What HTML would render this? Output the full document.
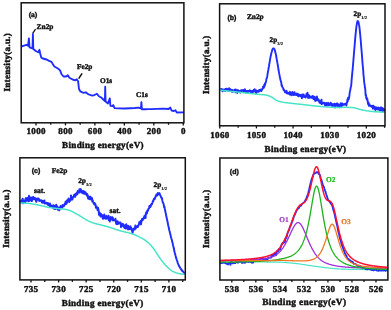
<!DOCTYPE html>
<html><head><meta charset="utf-8"><style>
html,body{margin:0;padding:0;background:#fff;width:391px;height:310px;overflow:hidden}
svg{display:block}
</style></head><body>
<svg width="391" height="310" viewBox="0 0 391 310" style="will-change:transform">
<rect width="391" height="310" fill="#fff"/>
<path d="M21.90,46.40 L26.30,44.80 L28.00,45.80 L28.90,38.40 L29.50,47.30 L32.50,48.30 L32.90,33.90 L33.30,49.00 L35.80,51.00 L38.30,52.30 L39.40,49.80 L40.30,54.00 L41.30,57.60 L42.80,58.50 L46.60,59.50 L49.10,60.90 L51.50,61.90 L52.90,64.30 L54.40,66.50 L58.30,68.70 L60.20,70.60 L61.40,74.00 L63.50,76.50 L66.10,76.50 L67.80,75.20 L69.40,77.80 L72.60,79.50 L75.40,80.30 L76.80,79.30 L78.10,81.20 L79.00,89.10 L80.40,91.40 L83.10,92.80 L85.80,92.30 L88.00,94.10 L91.70,95.50 L94.00,95.30 L96.90,93.70 L98.90,96.30 L101.20,97.50 L104.90,101.00 L105.20,86.70 L105.60,101.60 L108.00,103.40 L109.80,98.40 L110.40,105.80 L112.30,106.20 L113.30,105.10 L114.60,108.10 L118.00,108.30 L125.00,108.50 L135.00,108.00 L138.50,107.60 L140.90,108.50 L141.40,102.10 L141.90,109.20 L146.90,109.20 L151.10,109.10 L162.80,108.60 L168.60,109.00 L170.30,107.50 L171.50,110.50 L173.90,111.00 L175.40,110.20 L176.80,112.50 L183.00,112.30" fill="none" stroke="#1e2cff" stroke-width="1.85" stroke-linejoin="round" stroke-linecap="round" />
<line x1="36.00" y1="122.8" x2="36.00" y2="125.39999999999999" stroke="#111" stroke-width="1.3"/>
<line x1="50.73" y1="122.8" x2="50.73" y2="124.8" stroke="#111" stroke-width="1.3"/>
<line x1="65.45" y1="122.8" x2="65.45" y2="125.39999999999999" stroke="#111" stroke-width="1.3"/>
<line x1="80.17" y1="122.8" x2="80.17" y2="124.8" stroke="#111" stroke-width="1.3"/>
<line x1="94.90" y1="122.8" x2="94.90" y2="125.39999999999999" stroke="#111" stroke-width="1.3"/>
<line x1="109.63" y1="122.8" x2="109.63" y2="124.8" stroke="#111" stroke-width="1.3"/>
<line x1="124.35" y1="122.8" x2="124.35" y2="125.39999999999999" stroke="#111" stroke-width="1.3"/>
<line x1="139.08" y1="122.8" x2="139.08" y2="124.8" stroke="#111" stroke-width="1.3"/>
<line x1="153.80" y1="122.8" x2="153.80" y2="125.39999999999999" stroke="#111" stroke-width="1.3"/>
<line x1="168.53" y1="122.8" x2="168.53" y2="124.8" stroke="#111" stroke-width="1.3"/>
<line x1="183.25" y1="122.8" x2="183.25" y2="125.39999999999999" stroke="#111" stroke-width="1.3"/>
<rect x="21.2" y="2.8" width="162.70000000000002" height="120.0" fill="none" stroke="#111" stroke-width="1.5"/>
<text x="36.17" y="134.4" font-family='"Liberation Serif", serif' font-weight="bold" font-size="9.0" fill="#111" stroke="#111" stroke-width="0.45" text-anchor="middle" letter-spacing="0.35" text-rendering="geometricPrecision">1000</text>
<text x="65.62" y="134.4" font-family='"Liberation Serif", serif' font-weight="bold" font-size="9.0" fill="#111" stroke="#111" stroke-width="0.45" text-anchor="middle" letter-spacing="0.35" text-rendering="geometricPrecision">800</text>
<text x="95.07" y="134.4" font-family='"Liberation Serif", serif' font-weight="bold" font-size="9.0" fill="#111" stroke="#111" stroke-width="0.45" text-anchor="middle" letter-spacing="0.35" text-rendering="geometricPrecision">600</text>
<text x="124.52" y="134.4" font-family='"Liberation Serif", serif' font-weight="bold" font-size="9.0" fill="#111" stroke="#111" stroke-width="0.45" text-anchor="middle" letter-spacing="0.35" text-rendering="geometricPrecision">400</text>
<text x="153.97" y="134.4" font-family='"Liberation Serif", serif' font-weight="bold" font-size="9.0" fill="#111" stroke="#111" stroke-width="0.45" text-anchor="middle" letter-spacing="0.35" text-rendering="geometricPrecision">200</text>
<text x="183.42" y="134.4" font-family='"Liberation Serif", serif' font-weight="bold" font-size="9.0" fill="#111" stroke="#111" stroke-width="0.45" text-anchor="middle" letter-spacing="0.35" text-rendering="geometricPrecision">0</text>
<text transform="translate(10.1,62.2) rotate(-90)" x="0" y="0" font-family='"Liberation Serif", serif' font-weight="bold" font-size="9.1" fill="#111" stroke="#111" stroke-width="0.45" letter-spacing="0.27" text-rendering="geometricPrecision" text-anchor="middle">Intensity(a.u.)</text>
<text x="103" y="147.8" font-family='"Liberation Serif", serif' font-weight="bold" font-size="9.1" fill="#111" stroke="#111" stroke-width="0.45" text-anchor="middle" letter-spacing="0.32" text-rendering="geometricPrecision">Binding energy(eV)</text>
<text x="33" y="17.0" font-family='"Liberation Serif", serif' font-weight="bold" font-size="7.5" fill="#111" stroke="#111" stroke-width="0.4" text-anchor="middle" text-rendering="geometricPrecision">(a)</text>
<text x="36.6" y="28.7" font-family='"Liberation Serif", serif' font-weight="bold" font-size="7.4" fill="#111" stroke="#111" stroke-width="0.4" text-anchor="start" text-rendering="geometricPrecision">Zn2p</text>
<line x1="32.8" y1="33.2" x2="35.6" y2="29.2" stroke="#111" stroke-width="1.3"/>
<text x="77" y="69.0" font-family='"Liberation Serif", serif' font-weight="bold" font-size="7.3" fill="#111" stroke="#111" stroke-width="0.4" text-anchor="start" text-rendering="geometricPrecision">Fe2p</text>
<line x1="78.7" y1="78.6" x2="82.1" y2="73.3" stroke="#111" stroke-width="1.5"/>
<text x="100.0" y="83.1" font-family='"Liberation Serif", serif' font-weight="bold" font-size="7.3" fill="#111" stroke="#111" stroke-width="0.4" text-anchor="start" text-rendering="geometricPrecision">O1s</text>
<text x="136.1" y="97.1" font-family='"Liberation Serif", serif' font-weight="bold" font-size="7.3" fill="#111" stroke="#111" stroke-width="0.4" text-anchor="start" text-rendering="geometricPrecision">C1s</text>
<path d="M220.00,89.79 L220.35,90.11 L220.70,89.61 L221.05,89.08 L221.40,89.52 L221.75,89.06 L222.10,90.08 L222.45,91.32 L222.80,89.63 L223.15,89.55 L223.50,90.63 L223.85,90.54 L224.20,90.33 L224.55,89.38 L224.90,90.27 L225.25,90.99 L225.60,89.08 L225.95,89.95 L226.30,88.61 L226.65,89.22 L227.00,88.72 L227.35,90.28 L227.70,89.32 L228.05,90.81 L228.40,90.73 L228.75,90.42 L229.10,88.22 L229.45,90.13 L229.80,90.63 L230.15,90.80 L230.50,89.25 L230.85,90.28 L231.20,89.82 L231.55,90.00 L231.90,91.82 L232.25,90.04 L232.60,90.81 L232.95,91.71 L233.30,90.31 L233.65,90.78 L234.00,91.01 L234.35,90.98 L234.70,89.75 L235.05,91.03 L235.40,92.28 L235.75,89.49 L236.10,91.83 L236.45,91.13 L236.80,90.40 L237.15,92.98 L237.50,91.79 L237.85,89.90 L238.20,91.14 L238.55,91.64 L238.90,90.91 L239.25,91.77 L239.60,91.05 L239.95,91.77 L240.30,92.53 L240.65,90.48 L241.00,91.35 L241.35,90.71 L241.70,91.29 L242.05,90.02 L242.40,90.61 L242.75,90.99 L243.10,92.07 L243.45,92.31 L243.80,89.91 L244.15,90.43 L244.50,91.85 L244.85,89.28 L245.20,90.77 L245.55,91.13 L245.90,92.46 L246.25,91.91 L246.60,90.92 L246.95,90.88 L247.30,91.00 L247.65,92.74 L248.00,90.84 L248.35,90.96 L248.70,91.60 L249.05,91.14 L249.40,91.07 L249.75,90.18 L250.10,91.26 L250.45,90.83 L250.80,92.41 L251.15,91.91 L251.50,91.25 L251.85,91.93 L252.20,90.94 L252.55,92.30 L252.90,91.27 L253.25,91.85 L253.60,90.01 L253.95,91.61 L254.30,89.62 L254.65,89.28 L255.00,90.97 L255.35,90.39 L255.70,91.43 L256.05,93.46 L256.40,90.45 L256.75,90.64 L257.10,91.44 L257.45,91.71 L257.80,91.04 L258.15,90.99 L258.50,91.83 L258.85,91.60 L259.20,90.02 L259.55,90.85 L259.90,90.85 L260.25,89.67 L260.60,90.78 L260.95,89.54 L261.30,91.07 L261.65,90.11 L262.00,89.75 L262.35,88.82 L262.70,88.90 L263.05,86.79 L263.40,87.09 L263.75,87.81 L264.10,85.04 L264.45,86.75 L264.80,83.81 L265.15,84.77 L265.50,82.48 L265.85,82.40 L266.20,80.60 L266.55,78.13 L266.90,78.13 L267.25,76.46 L267.60,73.91 L267.95,71.94 L268.30,70.01 L268.65,67.78 L269.00,66.23 L269.35,63.74 L269.70,61.80 L270.05,59.59 L270.40,57.69 L270.75,55.70 L271.10,54.63 L271.45,52.75 L271.80,51.69 L272.15,50.34 L272.50,49.28 L272.85,48.75 L273.20,48.34 L273.55,48.41 L273.90,48.52 L274.25,49.01 L274.60,49.49 L274.95,50.63 L275.30,52.48 L275.65,53.34 L276.00,54.88 L276.35,57.01 L276.70,59.20 L277.05,60.50 L277.40,62.89 L277.75,64.91 L278.10,66.76 L278.45,69.52 L278.80,71.37 L279.15,73.41 L279.50,74.94 L279.85,77.38 L280.20,78.53 L280.55,80.36 L280.90,81.18 L281.25,82.41 L281.60,85.56 L281.95,85.24 L282.30,86.89 L282.65,87.51 L283.00,87.93 L283.35,88.55 L283.70,90.20 L284.05,89.85 L284.40,90.44 L284.75,90.99 L285.10,92.45 L285.45,92.25 L285.80,92.20 L286.15,91.46 L286.50,90.81 L286.85,93.31 L287.20,93.47 L287.55,92.45 L287.90,93.25 L288.25,93.58 L288.60,93.71 L288.95,93.88 L289.30,92.53 L289.65,94.62 L290.00,91.83 L290.35,94.07 L290.70,93.76 L291.05,94.23 L291.40,95.37 L291.75,95.06 L292.10,92.40 L292.45,91.93 L292.80,94.68 L293.15,92.85 L293.50,94.04 L293.85,95.07 L294.20,92.53 L294.55,92.15 L294.90,94.83 L295.25,94.72 L295.60,94.53 L295.95,94.96 L296.30,94.10 L296.65,93.49 L297.00,95.08 L297.35,94.30 L297.70,93.65 L298.05,96.13 L298.40,95.59 L298.75,96.19 L299.10,94.70 L299.45,95.12 L299.80,94.79 L300.15,94.95 L300.50,96.20 L300.85,95.13 L301.20,96.43 L301.55,96.44 L301.90,98.36 L302.25,94.53 L302.60,97.12 L302.95,96.04 L303.30,96.14 L303.65,94.53 L304.00,95.67 L304.35,97.05 L304.70,96.13 L305.05,96.34 L305.40,95.94 L305.75,97.60 L306.10,96.30 L306.45,93.85 L306.80,95.59 L307.15,94.16 L307.50,92.72 L307.85,95.85 L308.20,98.00 L308.55,96.56 L308.90,95.20 L309.25,95.49 L309.60,97.90 L309.95,96.83 L310.30,96.75 L310.65,96.68 L311.00,96.84 L311.35,97.79 L311.70,97.61 L312.05,97.35 L312.40,96.03 L312.75,98.01 L313.10,96.79 L313.45,99.09 L313.80,96.49 L314.15,98.05 L314.50,98.41 L314.85,97.03 L315.20,100.93 L315.55,100.81 L315.90,98.65 L316.25,100.34 L316.60,100.04 L316.95,96.50 L317.30,100.24 L317.65,100.03 L318.00,100.39 L318.35,99.11 L318.70,100.30 L319.05,100.59 L319.40,102.47 L319.75,101.57 L320.10,101.32 L320.45,103.40 L320.80,100.95 L321.15,101.31 L321.50,99.68 L321.85,104.06 L322.20,103.46 L322.55,103.55 L322.90,103.39 L323.25,102.84 L323.60,103.12 L323.95,102.67 L324.30,102.86 L324.65,103.32 L325.00,105.26 L325.35,104.18 L325.70,103.52 L326.05,102.96 L326.40,102.99 L326.75,105.88 L327.10,104.59 L327.45,104.13 L327.80,103.70 L328.15,102.82 L328.50,104.20 L328.85,105.45 L329.20,103.93 L329.55,104.20 L329.90,104.27 L330.25,104.73 L330.60,102.65 L330.95,104.39 L331.30,103.65 L331.65,105.85 L332.00,103.82 L332.35,105.53 L332.70,106.74 L333.05,104.47 L333.40,104.14 L333.75,105.15 L334.10,104.93 L334.45,103.70 L334.80,105.54 L335.15,107.49 L335.50,104.66 L335.85,104.74 L336.20,103.69 L336.55,105.39 L336.90,103.43 L337.25,103.60 L337.60,106.58 L337.95,103.83 L338.30,106.31 L338.65,106.85 L339.00,105.25 L339.35,105.60 L339.70,107.33 L340.05,104.62 L340.40,104.10 L340.75,103.13 L341.10,104.85 L341.45,106.61 L341.80,105.93 L342.15,103.52 L342.50,103.59 L342.85,103.99 L343.20,104.93 L343.55,104.25 L343.90,104.71 L344.25,104.72 L344.60,103.87 L344.95,104.06 L345.30,104.20 L345.65,103.62 L346.00,104.10 L346.35,105.48 L346.70,103.49 L347.05,102.33 L347.40,99.57 L347.75,101.45 L348.10,97.69 L348.45,97.40 L348.80,98.96 L349.15,97.39 L349.50,94.84 L349.85,91.41 L350.20,90.77 L350.55,88.20 L350.90,86.74 L351.25,85.01 L351.60,80.37 L351.95,76.43 L352.30,72.71 L352.65,69.32 L353.00,65.23 L353.35,60.78 L353.70,56.78 L354.05,52.09 L354.40,48.30 L354.75,44.01 L355.10,39.90 L355.45,35.61 L355.80,32.28 L356.15,28.92 L356.50,26.13 L356.85,23.94 L357.20,22.10 L357.55,21.09 L357.90,21.34 L358.25,21.46 L358.60,22.60 L358.95,24.47 L359.30,26.04 L359.65,29.07 L360.00,32.57 L360.35,36.27 L360.70,40.03 L361.05,44.57 L361.40,48.71 L361.75,52.77 L362.10,57.28 L362.45,62.09 L362.80,66.28 L363.15,69.68 L363.50,74.82 L363.85,78.27 L364.20,82.29 L364.55,84.30 L364.90,87.27 L365.25,89.12 L365.60,95.16 L365.95,94.53 L366.30,98.42 L366.65,97.49 L367.00,99.92 L367.35,98.87 L367.70,101.56 L368.05,104.19 L368.40,102.18 L368.75,105.74 L369.10,105.38 L369.45,104.13 L369.80,105.20 L370.15,105.59 L370.50,106.38 L370.85,106.01 L371.20,105.85 L371.55,106.68 L371.90,105.93 L372.25,105.74 L372.60,107.41 L372.95,108.68 L373.30,105.77 L373.65,107.78 L374.00,107.05 L374.35,106.73 L374.70,109.10 L375.05,107.46 L375.40,110.06 L375.75,107.30 L376.10,108.83 L376.45,108.15 L376.80,107.57 L377.15,109.33 L377.50,108.49 L377.85,109.52 L378.20,108.80 L378.55,107.59 L378.90,108.91 L379.25,109.20 L379.60,110.43 L379.95,108.20 L380.30,109.38 L380.65,107.38 L381.00,110.45 L381.35,108.38 L381.70,107.58 L382.05,109.87 L382.40,111.44 L382.75,108.26 L383.10,108.91 L383.45,109.46 L383.80,109.09 L384.15,111.09 L384.50,109.72" fill="none" stroke="#1e2cff" stroke-width="1.9" stroke-linejoin="round" stroke-linecap="round" />
<path d="M220.00,90.20 L220.35,90.24 L220.70,90.27 L221.05,90.31 L221.40,90.34 L221.75,90.38 L222.10,90.41 L222.45,90.45 L222.80,90.49 L223.15,90.52 L223.50,90.56 L223.85,90.59 L224.20,90.63 L224.55,90.67 L224.90,90.70 L225.25,90.74 L225.60,90.78 L225.95,90.81 L226.30,90.85 L226.65,90.88 L227.00,90.92 L227.35,90.96 L227.70,90.99 L228.05,91.03 L228.40,91.07 L228.75,91.10 L229.10,91.14 L229.45,91.18 L229.80,91.21 L230.15,91.25 L230.50,91.29 L230.85,91.32 L231.20,91.36 L231.55,91.40 L231.90,91.43 L232.25,91.47 L232.60,91.51 L232.95,91.55 L233.30,91.58 L233.65,91.62 L234.00,91.66 L234.35,91.69 L234.70,91.73 L235.05,91.77 L235.40,91.81 L235.75,91.84 L236.10,91.88 L236.45,91.92 L236.80,91.96 L237.15,91.99 L237.50,92.03 L237.85,92.07 L238.20,92.11 L238.55,92.14 L238.90,92.18 L239.25,92.22 L239.60,92.26 L239.95,92.29 L240.30,92.33 L240.65,92.37 L241.00,92.41 L241.35,92.45 L241.70,92.49 L242.05,92.52 L242.40,92.56 L242.75,92.60 L243.10,92.64 L243.45,92.68 L243.80,92.72 L244.15,92.76 L244.50,92.80 L244.85,92.84 L245.20,92.88 L245.55,92.92 L245.90,92.96 L246.25,93.00 L246.60,93.04 L246.95,93.08 L247.30,93.12 L247.65,93.16 L248.00,93.20 L248.35,93.24 L248.70,93.28 L249.05,93.32 L249.40,93.36 L249.75,93.40 L250.10,93.44 L250.45,93.48 L250.80,93.52 L251.15,93.56 L251.50,93.59 L251.85,93.63 L252.20,93.67 L252.55,93.71 L252.90,93.75 L253.25,93.79 L253.60,93.83 L253.95,93.87 L254.30,93.91 L254.65,93.94 L255.00,93.98 L255.35,94.02 L255.70,94.06 L256.05,94.10 L256.40,94.13 L256.75,94.17 L257.10,94.21 L257.45,94.24 L257.80,94.28 L258.15,94.32 L258.50,94.35 L258.85,94.38 L259.20,94.41 L259.55,94.44 L259.90,94.47 L260.25,94.50 L260.60,94.53 L260.95,94.55 L261.30,94.58 L261.65,94.61 L262.00,94.63 L262.35,94.66 L262.70,94.69 L263.05,94.72 L263.40,94.75 L263.75,94.79 L264.10,94.82 L264.45,94.86 L264.80,94.90 L265.15,94.95 L265.50,95.00 L265.85,95.05 L266.20,95.10 L266.55,95.16 L266.90,95.24 L267.25,95.32 L267.60,95.42 L267.95,95.53 L268.30,95.65 L268.65,95.77 L269.00,95.90 L269.35,96.04 L269.70,96.19 L270.05,96.34 L270.40,96.49 L270.75,96.65 L271.10,96.81 L271.45,96.97 L271.80,97.16 L272.15,97.37 L272.50,97.60 L272.85,97.85 L273.20,98.11 L273.55,98.38 L273.90,98.65 L274.25,98.92 L274.60,99.18 L274.95,99.44 L275.30,99.68 L275.65,99.90 L276.00,100.10 L276.35,100.28 L276.70,100.43 L277.05,100.58 L277.40,100.73 L277.75,100.87 L278.10,101.00 L278.45,101.13 L278.80,101.25 L279.15,101.37 L279.50,101.48 L279.85,101.59 L280.20,101.69 L280.55,101.78 L280.90,101.87 L281.25,101.95 L281.60,102.02 L281.95,102.09 L282.30,102.15 L282.65,102.21 L283.00,102.27 L283.35,102.33 L283.70,102.38 L284.05,102.43 L284.40,102.48 L284.75,102.53 L285.10,102.57 L285.45,102.62 L285.80,102.66 L286.15,102.70 L286.50,102.74 L286.85,102.78 L287.20,102.82 L287.55,102.86 L287.90,102.90 L288.25,102.95 L288.60,102.99 L288.95,103.03 L289.30,103.07 L289.65,103.11 L290.00,103.15 L290.35,103.19 L290.70,103.23 L291.05,103.27 L291.40,103.31 L291.75,103.35 L292.10,103.39 L292.45,103.42 L292.80,103.46 L293.15,103.50 L293.50,103.53 L293.85,103.57 L294.20,103.60 L294.55,103.64 L294.90,103.68 L295.25,103.71 L295.60,103.75 L295.95,103.78 L296.30,103.82 L296.65,103.86 L297.00,103.89 L297.35,103.93 L297.70,103.97 L298.05,104.01 L298.40,104.04 L298.75,104.08 L299.10,104.12 L299.45,104.16 L299.80,104.20 L300.15,104.24 L300.50,104.28 L300.85,104.32 L301.20,104.36 L301.55,104.40 L301.90,104.44 L302.25,104.48 L302.60,104.52 L302.95,104.56 L303.30,104.60 L303.65,104.64 L304.00,104.68 L304.35,104.72 L304.70,104.76 L305.05,104.80 L305.40,104.85 L305.75,104.89 L306.10,104.93 L306.45,104.97 L306.80,105.01 L307.15,105.05 L307.50,105.09 L307.85,105.14 L308.20,105.18 L308.55,105.22 L308.90,105.26 L309.25,105.30 L309.60,105.34 L309.95,105.38 L310.30,105.42 L310.65,105.46 L311.00,105.50 L311.35,105.54 L311.70,105.58 L312.05,105.62 L312.40,105.66 L312.75,105.70 L313.10,105.74 L313.45,105.78 L313.80,105.81 L314.15,105.85 L314.50,105.89 L314.85,105.92 L315.20,105.96 L315.55,106.00 L315.90,106.03 L316.25,106.07 L316.60,106.10 L316.95,106.14 L317.30,106.17 L317.65,106.21 L318.00,106.24 L318.35,106.27 L318.70,106.30 L319.05,106.34 L319.40,106.37 L319.75,106.40 L320.10,106.43 L320.45,106.46 L320.80,106.48 L321.15,106.51 L321.50,106.54 L321.85,106.57 L322.20,106.59 L322.55,106.62 L322.90,106.64 L323.25,106.67 L323.60,106.70 L323.95,106.72 L324.30,106.75 L324.65,106.78 L325.00,106.81 L325.35,106.83 L325.70,106.86 L326.05,106.89 L326.40,106.92 L326.75,106.94 L327.10,106.97 L327.45,107.00 L327.80,107.02 L328.15,107.05 L328.50,107.08 L328.85,107.10 L329.20,107.13 L329.55,107.15 L329.90,107.18 L330.25,107.20 L330.60,107.22 L330.95,107.25 L331.30,107.27 L331.65,107.29 L332.00,107.31 L332.35,107.33 L332.70,107.35 L333.05,107.37 L333.40,107.38 L333.75,107.40 L334.10,107.41 L334.45,107.43 L334.80,107.44 L335.15,107.45 L335.50,107.46 L335.85,107.47 L336.20,107.48 L336.55,107.49 L336.90,107.49 L337.25,107.50 L337.60,107.50 L337.95,107.50 L338.30,107.50 L338.65,107.50 L339.00,107.49 L339.35,107.48 L339.70,107.47 L340.05,107.46 L340.40,107.45 L340.75,107.44 L341.10,107.42 L341.45,107.41 L341.80,107.40 L342.15,107.38 L342.50,107.37 L342.85,107.35 L343.20,107.34 L343.55,107.33 L343.90,107.32 L344.25,107.31 L344.60,107.31 L344.95,107.30 L345.30,107.30 L345.65,107.30 L346.00,107.30 L346.35,107.31 L346.70,107.31 L347.05,107.32 L347.40,107.33 L347.75,107.34 L348.10,107.35 L348.45,107.36 L348.80,107.38 L349.15,107.39 L349.50,107.41 L349.85,107.42 L350.20,107.44 L350.55,107.46 L350.90,107.48 L351.25,107.50 L351.60,107.53 L351.95,107.55 L352.30,107.57 L352.65,107.60 L353.00,107.63 L353.35,107.67 L353.70,107.72 L354.05,107.78 L354.40,107.85 L354.75,107.92 L355.10,108.01 L355.45,108.10 L355.80,108.19 L356.15,108.29 L356.50,108.39 L356.85,108.49 L357.20,108.60 L357.55,108.70 L357.90,108.81 L358.25,108.91 L358.60,109.01 L358.95,109.11 L359.30,109.21 L359.65,109.29 L360.00,109.38 L360.35,109.46 L360.70,109.53 L361.05,109.61 L361.40,109.69 L361.75,109.77 L362.10,109.85 L362.45,109.93 L362.80,110.01 L363.15,110.08 L363.50,110.16 L363.85,110.23 L364.20,110.31 L364.55,110.38 L364.90,110.45 L365.25,110.52 L365.60,110.59 L365.95,110.65 L366.30,110.71 L366.65,110.77 L367.00,110.83 L367.35,110.88 L367.70,110.93 L368.05,110.98 L368.40,111.03 L368.75,111.07 L369.10,111.12 L369.45,111.16 L369.80,111.21 L370.15,111.25 L370.50,111.29 L370.85,111.33 L371.20,111.37 L371.55,111.41 L371.90,111.45 L372.25,111.48 L372.60,111.52 L372.95,111.55 L373.30,111.58 L373.65,111.61 L374.00,111.64 L374.35,111.67 L374.70,111.69 L375.05,111.72 L375.40,111.74 L375.75,111.77 L376.10,111.79 L376.45,111.81 L376.80,111.84 L377.15,111.86 L377.50,111.88 L377.85,111.90 L378.20,111.92 L378.55,111.94 L378.90,111.97 L379.25,111.99 L379.60,112.00 L379.95,112.02 L380.30,112.04 L380.65,112.06 L381.00,112.08 L381.35,112.09 L381.70,112.11 L382.05,112.12 L382.40,112.13 L382.75,112.15 L383.10,112.16 L383.45,112.17 L383.80,112.18 L384.15,112.18 L384.50,112.19" fill="none" stroke="#48e4c8" stroke-width="1.5" stroke-linejoin="round" stroke-linecap="round" />
<line x1="219.80" y1="125.8" x2="219.80" y2="128.4" stroke="#111" stroke-width="1.3"/>
<line x1="238.11" y1="125.8" x2="238.11" y2="127.8" stroke="#111" stroke-width="1.3"/>
<line x1="256.43" y1="125.8" x2="256.43" y2="128.4" stroke="#111" stroke-width="1.3"/>
<line x1="274.74" y1="125.8" x2="274.74" y2="127.8" stroke="#111" stroke-width="1.3"/>
<line x1="293.05" y1="125.8" x2="293.05" y2="128.4" stroke="#111" stroke-width="1.3"/>
<line x1="311.36" y1="125.8" x2="311.36" y2="127.8" stroke="#111" stroke-width="1.3"/>
<line x1="329.68" y1="125.8" x2="329.68" y2="128.4" stroke="#111" stroke-width="1.3"/>
<line x1="347.99" y1="125.8" x2="347.99" y2="127.8" stroke="#111" stroke-width="1.3"/>
<line x1="366.30" y1="125.8" x2="366.30" y2="128.4" stroke="#111" stroke-width="1.3"/>
<line x1="384.61" y1="125.8" x2="384.61" y2="127.8" stroke="#111" stroke-width="1.3"/>
<rect x="219.6" y="3.8" width="165.4" height="122.0" fill="none" stroke="#111" stroke-width="1.5"/>
<text x="219.97" y="138.0" font-family='"Liberation Serif", serif' font-weight="bold" font-size="9.0" fill="#111" stroke="#111" stroke-width="0.45" text-anchor="middle" letter-spacing="0.35" text-rendering="geometricPrecision">1060</text>
<text x="256.60" y="138.0" font-family='"Liberation Serif", serif' font-weight="bold" font-size="9.0" fill="#111" stroke="#111" stroke-width="0.45" text-anchor="middle" letter-spacing="0.35" text-rendering="geometricPrecision">1050</text>
<text x="293.22" y="138.0" font-family='"Liberation Serif", serif' font-weight="bold" font-size="9.0" fill="#111" stroke="#111" stroke-width="0.45" text-anchor="middle" letter-spacing="0.35" text-rendering="geometricPrecision">1040</text>
<text x="329.85" y="138.0" font-family='"Liberation Serif", serif' font-weight="bold" font-size="9.0" fill="#111" stroke="#111" stroke-width="0.45" text-anchor="middle" letter-spacing="0.35" text-rendering="geometricPrecision">1030</text>
<text x="366.47" y="138.0" font-family='"Liberation Serif", serif' font-weight="bold" font-size="9.0" fill="#111" stroke="#111" stroke-width="0.45" text-anchor="middle" letter-spacing="0.35" text-rendering="geometricPrecision">1020</text>
<text transform="translate(208.6,64.75) rotate(-90)" x="0" y="0" font-family='"Liberation Serif", serif' font-weight="bold" font-size="9.1" fill="#111" stroke="#111" stroke-width="0.45" letter-spacing="0.27" text-rendering="geometricPrecision" text-anchor="middle">Intensity(a.u.)</text>
<text x="305.5" y="151.7" font-family='"Liberation Serif", serif' font-weight="bold" font-size="9.1" fill="#111" stroke="#111" stroke-width="0.45" text-anchor="middle" letter-spacing="0.32" text-rendering="geometricPrecision">Binding energy(eV)</text>
<text x="231.9" y="20.1" font-family='"Liberation Sans", sans-serif' font-weight="bold" font-size="7.0" fill="#111" stroke="#111" stroke-width="0.4" text-anchor="middle" text-rendering="geometricPrecision">(b)</text>
<text x="247" y="19.0" font-family='"Liberation Serif", serif' font-weight="bold" font-size="7.3" fill="#111" stroke="#111" stroke-width="0.4" text-anchor="start" text-rendering="geometricPrecision">Zn2p</text>
<text x="269.6" y="42.2" font-family='"Liberation Serif", serif' font-weight="bold" font-size="7.2" fill="#111" stroke="#111" stroke-width="0.4" text-anchor="start" text-rendering="geometricPrecision">2p<tspan font-size="4.5" dy="2.7" stroke-width="0.15">3/2</tspan></text>
<text x="353.6" y="15.5" font-family='"Liberation Serif", serif' font-weight="bold" font-size="7.2" fill="#111" stroke="#111" stroke-width="0.4" text-anchor="start" text-rendering="geometricPrecision">2p<tspan font-size="4.5" dy="3.0" stroke-width="0.15">1/2</tspan></text>
<path d="M20.60,200.96 L20.95,202.51 L21.30,200.62 L21.65,202.02 L22.00,200.06 L22.35,199.61 L22.70,198.67 L23.05,203.35 L23.40,200.39 L23.75,201.01 L24.10,200.54 L24.45,200.68 L24.80,200.44 L25.15,202.77 L25.50,198.85 L25.85,198.08 L26.20,198.69 L26.55,198.18 L26.90,200.79 L27.25,200.80 L27.60,198.40 L27.95,197.76 L28.30,199.04 L28.65,201.25 L29.00,195.72 L29.35,200.03 L29.70,197.92 L30.05,200.65 L30.40,197.90 L30.75,198.93 L31.10,197.34 L31.45,198.03 L31.80,201.10 L32.15,200.37 L32.50,198.78 L32.85,198.17 L33.20,196.84 L33.55,198.79 L33.90,199.26 L34.25,199.19 L34.60,199.18 L34.95,197.84 L35.30,199.21 L35.65,199.26 L36.00,201.01 L36.35,201.80 L36.70,199.25 L37.05,198.49 L37.40,199.48 L37.75,198.85 L38.10,198.76 L38.45,199.74 L38.80,198.58 L39.15,200.89 L39.50,200.17 L39.85,200.86 L40.20,200.55 L40.55,200.11 L40.90,200.10 L41.25,201.29 L41.60,201.14 L41.95,202.39 L42.30,202.29 L42.65,200.70 L43.00,202.72 L43.35,201.03 L43.70,202.11 L44.05,202.67 L44.40,200.48 L44.75,203.42 L45.10,203.62 L45.45,203.35 L45.80,203.13 L46.15,203.33 L46.50,202.69 L46.85,203.76 L47.20,203.54 L47.55,204.54 L47.90,203.02 L48.25,205.06 L48.60,205.11 L48.95,204.90 L49.30,204.68 L49.65,206.14 L50.00,203.42 L50.35,206.34 L50.70,206.22 L51.05,206.43 L51.40,206.72 L51.75,205.54 L52.10,206.21 L52.45,207.55 L52.80,207.44 L53.15,207.30 L53.50,205.21 L53.85,208.01 L54.20,208.95 L54.55,208.85 L54.90,207.93 L55.25,205.68 L55.60,209.01 L55.95,207.67 L56.30,204.65 L56.65,208.50 L57.00,206.13 L57.35,206.43 L57.70,207.33 L58.05,209.84 L58.40,207.72 L58.75,208.54 L59.10,210.40 L59.45,210.10 L59.80,207.76 L60.15,207.41 L60.50,205.88 L60.85,206.39 L61.20,207.60 L61.55,207.30 L61.90,206.64 L62.25,207.50 L62.60,204.91 L62.95,205.55 L63.30,206.28 L63.65,205.80 L64.00,206.16 L64.35,205.02 L64.70,203.86 L65.05,204.49 L65.40,202.47 L65.75,201.40 L66.10,204.04 L66.45,202.96 L66.80,203.18 L67.15,200.31 L67.50,201.78 L67.85,201.21 L68.20,200.58 L68.55,198.49 L68.90,200.69 L69.25,201.99 L69.60,201.00 L69.95,199.39 L70.30,199.78 L70.65,200.39 L71.00,195.41 L71.35,198.41 L71.70,198.85 L72.05,198.60 L72.40,199.49 L72.75,198.33 L73.10,196.85 L73.45,196.44 L73.80,196.69 L74.15,194.62 L74.50,194.95 L74.85,195.87 L75.20,196.91 L75.55,193.83 L75.90,193.64 L76.25,193.63 L76.60,194.79 L76.95,192.69 L77.30,194.33 L77.65,190.88 L78.00,191.63 L78.35,191.38 L78.70,192.46 L79.05,192.62 L79.40,189.17 L79.75,189.85 L80.10,191.44 L80.45,190.15 L80.80,189.08 L81.15,192.49 L81.50,191.89 L81.85,192.02 L82.20,190.91 L82.55,193.04 L82.90,191.57 L83.25,193.50 L83.60,191.09 L83.95,191.35 L84.30,192.92 L84.65,191.94 L85.00,193.96 L85.35,193.66 L85.70,192.38 L86.05,193.95 L86.40,193.68 L86.75,195.63 L87.10,193.93 L87.45,194.51 L87.80,196.98 L88.15,198.66 L88.50,198.69 L88.85,196.53 L89.20,197.09 L89.55,199.18 L89.90,197.42 L90.25,196.72 L90.60,198.57 L90.95,199.45 L91.30,198.24 L91.65,197.65 L92.00,198.40 L92.35,201.62 L92.70,200.27 L93.05,201.57 L93.40,202.54 L93.75,203.58 L94.10,202.86 L94.45,204.49 L94.80,203.25 L95.15,204.52 L95.50,204.26 L95.85,207.67 L96.20,206.78 L96.55,206.48 L96.90,207.60 L97.25,208.39 L97.60,210.19 L97.95,207.80 L98.30,209.11 L98.65,210.53 L99.00,214.87 L99.35,213.39 L99.70,212.57 L100.05,214.19 L100.40,216.44 L100.75,213.92 L101.10,214.13 L101.45,216.53 L101.80,215.93 L102.15,216.48 L102.50,215.25 L102.85,218.70 L103.20,218.69 L103.55,217.46 L103.90,217.85 L104.25,214.53 L104.60,218.19 L104.95,217.28 L105.30,218.25 L105.65,218.71 L106.00,217.50 L106.35,215.86 L106.70,218.65 L107.05,217.30 L107.40,217.93 L107.75,217.66 L108.10,218.09 L108.45,215.62 L108.80,220.29 L109.15,219.13 L109.50,220.34 L109.85,221.57 L110.20,219.13 L110.55,216.87 L110.90,218.15 L111.25,217.85 L111.60,218.87 L111.95,219.73 L112.30,217.13 L112.65,220.29 L113.00,217.99 L113.35,220.46 L113.70,220.05 L114.05,219.90 L114.40,220.35 L114.75,219.87 L115.10,219.92 L115.45,218.68 L115.80,220.99 L116.15,223.61 L116.50,223.98 L116.85,223.33 L117.20,222.74 L117.55,221.17 L117.90,224.15 L118.25,222.43 L118.60,222.64 L118.95,222.58 L119.30,223.30 L119.65,222.84 L120.00,223.50 L120.35,222.41 L120.70,223.52 L121.05,227.16 L121.40,224.29 L121.75,224.25 L122.10,225.43 L122.45,225.84 L122.80,223.65 L123.15,225.00 L123.50,226.64 L123.85,225.97 L124.20,225.95 L124.55,227.99 L124.90,225.26 L125.25,226.43 L125.60,225.82 L125.95,228.62 L126.30,224.32 L126.65,226.16 L127.00,226.51 L127.35,228.24 L127.70,228.33 L128.05,229.53 L128.40,225.85 L128.75,229.05 L129.10,227.88 L129.45,227.59 L129.80,229.35 L130.15,227.66 L130.50,226.37 L130.85,228.83 L131.20,227.67 L131.55,229.13 L131.90,230.82 L132.25,231.06 L132.60,232.96 L132.95,230.74 L133.30,228.91 L133.65,229.61 L134.00,228.93 L134.35,227.99 L134.70,229.57 L135.05,227.65 L135.40,225.50 L135.75,228.57 L136.10,227.12 L136.45,227.34 L136.80,226.62 L137.15,226.92 L137.50,225.78 L137.85,226.96 L138.20,225.54 L138.55,225.16 L138.90,224.85 L139.25,222.11 L139.60,223.47 L139.95,223.03 L140.30,223.31 L140.65,220.93 L141.00,224.47 L141.35,222.10 L141.70,219.98 L142.05,218.88 L142.40,220.23 L142.75,219.92 L143.10,218.51 L143.45,218.93 L143.80,217.31 L144.15,218.19 L144.50,215.85 L144.85,216.06 L145.20,216.71 L145.55,218.13 L145.90,212.86 L146.25,212.98 L146.60,211.93 L146.95,213.48 L147.30,210.43 L147.65,210.76 L148.00,210.81 L148.35,209.04 L148.70,208.52 L149.05,208.59 L149.40,205.90 L149.75,206.16 L150.10,207.15 L150.45,206.86 L150.80,205.94 L151.15,204.19 L151.50,204.30 L151.85,204.37 L152.20,203.45 L152.55,202.29 L152.90,201.03 L153.25,201.31 L153.60,199.85 L153.95,198.83 L154.30,198.44 L154.65,199.23 L155.00,197.73 L155.35,197.63 L155.70,195.87 L156.05,196.12 L156.40,194.51 L156.75,194.26 L157.10,195.52 L157.45,194.07 L157.80,193.03 L158.15,193.25 L158.50,193.60 L158.85,194.38 L159.20,193.58 L159.55,193.14 L159.90,194.52 L160.25,195.17 L160.60,195.71 L160.95,197.09 L161.30,197.19 L161.65,198.37 L162.00,198.10 L162.35,200.44 L162.70,202.36 L163.05,202.67 L163.40,203.53 L163.75,204.67 L164.10,207.04 L164.45,206.71 L164.80,208.78 L165.15,210.56 L165.50,212.29 L165.85,213.77 L166.20,215.62 L166.55,217.20 L166.90,218.92 L167.25,220.52 L167.60,222.00 L167.95,223.91 L168.30,225.77 L168.65,227.05 L169.00,228.78 L169.35,230.47 L169.70,231.56 L170.05,233.19 L170.40,234.30 L170.75,236.05 L171.10,237.59 L171.45,238.86 L171.80,239.77 L172.15,241.34 L172.50,242.65 L172.85,244.16 L173.20,246.00 L173.55,247.02 L173.90,249.07 L174.25,250.42 L174.60,252.23 L174.95,253.44 L175.30,254.64 L175.65,256.09 L176.00,257.41 L176.35,258.48 L176.70,259.74 L177.05,260.67 L177.40,261.44 L177.75,263.04 L178.10,263.94 L178.45,264.68 L178.80,265.42 L179.15,266.30 L179.50,266.66 L179.85,267.23 L180.20,267.90 L180.55,268.71 L180.90,268.71 L181.25,269.70 L181.60,269.80 L181.95,270.15 L182.30,271.03 L182.65,271.17 L183.00,271.33 L183.35,271.89 L183.70,272.50 L184.05,272.89 L184.40,272.89 L184.75,273.34" fill="none" stroke="#1e2cff" stroke-width="1.95" stroke-linejoin="round" stroke-linecap="round" />
<path d="M20.30,202.90 L20.80,202.91 L21.30,202.92 L21.80,202.94 L22.30,202.96 L22.80,202.98 L23.30,203.01 L23.80,203.04 L24.30,203.07 L24.80,203.11 L25.30,203.15 L25.80,203.19 L26.30,203.23 L26.80,203.27 L27.30,203.32 L27.80,203.36 L28.30,203.41 L28.80,203.46 L29.30,203.51 L29.80,203.56 L30.30,203.61 L30.80,203.67 L31.30,203.73 L31.80,203.80 L32.30,203.87 L32.80,203.95 L33.30,204.04 L33.80,204.13 L34.30,204.22 L34.80,204.32 L35.30,204.42 L35.80,204.52 L36.30,204.62 L36.80,204.73 L37.30,204.83 L37.80,204.94 L38.30,205.04 L38.80,205.15 L39.30,205.25 L39.80,205.36 L40.30,205.46 L40.80,205.56 L41.30,205.66 L41.80,205.77 L42.30,205.88 L42.80,206.00 L43.30,206.11 L43.80,206.23 L44.30,206.35 L44.80,206.47 L45.30,206.59 L45.80,206.71 L46.30,206.82 L46.80,206.94 L47.30,207.05 L47.80,207.16 L48.30,207.26 L48.80,207.37 L49.30,207.46 L49.80,207.55 L50.30,207.64 L50.80,207.72 L51.30,207.79 L51.80,207.86 L52.30,207.93 L52.80,208.00 L53.30,208.06 L53.80,208.12 L54.30,208.18 L54.80,208.24 L55.30,208.30 L55.80,208.35 L56.30,208.41 L56.80,208.46 L57.30,208.52 L57.80,208.57 L58.30,208.62 L58.80,208.67 L59.30,208.73 L59.80,208.78 L60.30,208.83 L60.80,208.88 L61.30,208.92 L61.80,208.96 L62.30,209.00 L62.80,209.05 L63.30,209.09 L63.80,209.14 L64.30,209.20 L64.80,209.26 L65.30,209.33 L65.80,209.42 L66.30,209.52 L66.80,209.64 L67.30,209.77 L67.80,209.91 L68.30,210.06 L68.80,210.22 L69.30,210.39 L69.80,210.56 L70.30,210.74 L70.80,210.93 L71.30,211.15 L71.80,211.39 L72.30,211.65 L72.80,211.92 L73.30,212.19 L73.80,212.47 L74.30,212.75 L74.80,213.03 L75.30,213.30 L75.80,213.57 L76.30,213.84 L76.80,214.11 L77.30,214.38 L77.80,214.66 L78.30,214.94 L78.80,215.22 L79.30,215.50 L79.80,215.79 L80.30,216.08 L80.80,216.38 L81.30,216.69 L81.80,217.01 L82.30,217.33 L82.80,217.65 L83.30,217.98 L83.80,218.30 L84.30,218.62 L84.80,218.93 L85.30,219.23 L85.80,219.51 L86.30,219.79 L86.80,220.07 L87.30,220.35 L87.80,220.62 L88.30,220.88 L88.80,221.13 L89.30,221.38 L89.80,221.61 L90.30,221.83 L90.80,222.04 L91.30,222.24 L91.80,222.42 L92.30,222.61 L92.80,222.78 L93.30,222.95 L93.80,223.11 L94.30,223.26 L94.80,223.41 L95.30,223.56 L95.80,223.70 L96.30,223.83 L96.80,223.96 L97.30,224.08 L97.80,224.19 L98.30,224.30 L98.80,224.41 L99.30,224.53 L99.80,224.65 L100.30,224.78 L100.80,224.90 L101.30,225.03 L101.80,225.16 L102.30,225.29 L102.80,225.42 L103.30,225.55 L103.80,225.69 L104.30,225.82 L104.80,225.96 L105.30,226.09 L105.80,226.23 L106.30,226.37 L106.80,226.51 L107.30,226.65 L107.80,226.80 L108.30,226.94 L108.80,227.09 L109.30,227.23 L109.80,227.38 L110.30,227.53 L110.80,227.68 L111.30,227.84 L111.80,228.00 L112.30,228.17 L112.80,228.34 L113.30,228.51 L113.80,228.68 L114.30,228.86 L114.80,229.03 L115.30,229.21 L115.80,229.38 L116.30,229.55 L116.80,229.73 L117.30,229.90 L117.80,230.06 L118.30,230.23 L118.80,230.39 L119.30,230.55 L119.80,230.70 L120.30,230.84 L120.80,230.98 L121.30,231.12 L121.80,231.25 L122.30,231.37 L122.80,231.49 L123.30,231.60 L123.80,231.72 L124.30,231.83 L124.80,231.94 L125.30,232.05 L125.80,232.16 L126.30,232.27 L126.80,232.38 L127.30,232.50 L127.80,232.62 L128.30,232.74 L128.80,232.87 L129.30,233.00 L129.80,233.14 L130.30,233.28 L130.80,233.43 L131.30,233.59 L131.80,233.75 L132.30,233.92 L132.80,234.10 L133.30,234.28 L133.80,234.46 L134.30,234.65 L134.80,234.85 L135.30,235.05 L135.80,235.26 L136.30,235.47 L136.80,235.69 L137.30,235.91 L137.80,236.14 L138.30,236.37 L138.80,236.61 L139.30,236.85 L139.80,237.10 L140.30,237.35 L140.80,237.61 L141.30,237.88 L141.80,238.16 L142.30,238.45 L142.80,238.75 L143.30,239.06 L143.80,239.38 L144.30,239.71 L144.80,240.05 L145.30,240.41 L145.80,240.77 L146.30,241.15 L146.80,241.54 L147.30,241.94 L147.80,242.37 L148.30,242.82 L148.80,243.28 L149.30,243.76 L149.80,244.26 L150.30,244.78 L150.80,245.31 L151.30,245.85 L151.80,246.42 L152.30,246.99 L152.80,247.58 L153.30,248.20 L153.80,248.86 L154.30,249.56 L154.80,250.30 L155.30,251.07 L155.80,251.85 L156.30,252.65 L156.80,253.45 L157.30,254.25 L157.80,255.04 L158.30,255.81 L158.80,256.55 L159.30,257.26 L159.80,257.95 L160.30,258.63 L160.80,259.32 L161.30,260.00 L161.80,260.67 L162.30,261.33 L162.80,261.98 L163.30,262.62 L163.80,263.24 L164.30,263.84 L164.80,264.42 L165.30,264.97 L165.80,265.50 L166.30,266.01 L166.80,266.52 L167.30,267.03 L167.80,267.53 L168.30,268.01 L168.80,268.48 L169.30,268.93 L169.80,269.36 L170.30,269.77 L170.80,270.15 L171.30,270.50 L171.80,270.82 L172.30,271.10 L172.80,271.36 L173.30,271.60 L173.80,271.84 L174.30,272.06 L174.80,272.28 L175.30,272.48 L175.80,272.67 L176.30,272.84 L176.80,273.01 L177.30,273.16 L177.80,273.29 L178.30,273.41 L178.80,273.52 L179.30,273.62 L179.80,273.72 L180.30,273.82 L180.80,273.91 L181.30,273.99 L181.80,274.08 L182.30,274.15 L182.80,274.22 L183.30,274.28 L183.80,274.32 L184.30,274.36 L184.80,274.39" fill="none" stroke="#48e4c8" stroke-width="1.5" stroke-linejoin="round" stroke-linecap="round" />
<line x1="31.00" y1="279.9" x2="31.00" y2="282.5" stroke="#111" stroke-width="1.3"/>
<line x1="44.79" y1="279.9" x2="44.79" y2="281.9" stroke="#111" stroke-width="1.3"/>
<line x1="58.58" y1="279.9" x2="58.58" y2="282.5" stroke="#111" stroke-width="1.3"/>
<line x1="72.37" y1="279.9" x2="72.37" y2="281.9" stroke="#111" stroke-width="1.3"/>
<line x1="86.16" y1="279.9" x2="86.16" y2="282.5" stroke="#111" stroke-width="1.3"/>
<line x1="99.95" y1="279.9" x2="99.95" y2="281.9" stroke="#111" stroke-width="1.3"/>
<line x1="113.74" y1="279.9" x2="113.74" y2="282.5" stroke="#111" stroke-width="1.3"/>
<line x1="127.53" y1="279.9" x2="127.53" y2="281.9" stroke="#111" stroke-width="1.3"/>
<line x1="141.32" y1="279.9" x2="141.32" y2="282.5" stroke="#111" stroke-width="1.3"/>
<line x1="155.11" y1="279.9" x2="155.11" y2="281.9" stroke="#111" stroke-width="1.3"/>
<line x1="168.90" y1="279.9" x2="168.90" y2="282.5" stroke="#111" stroke-width="1.3"/>
<line x1="182.69" y1="279.9" x2="182.69" y2="281.9" stroke="#111" stroke-width="1.3"/>
<rect x="19.9" y="157.8" width="165.4" height="122.09999999999997" fill="none" stroke="#111" stroke-width="1.5"/>
<text x="31.17" y="292.3" font-family='"Liberation Serif", serif' font-weight="bold" font-size="9.0" fill="#111" stroke="#111" stroke-width="0.45" text-anchor="middle" letter-spacing="0.35" text-rendering="geometricPrecision">735</text>
<text x="58.75" y="292.3" font-family='"Liberation Serif", serif' font-weight="bold" font-size="9.0" fill="#111" stroke="#111" stroke-width="0.45" text-anchor="middle" letter-spacing="0.35" text-rendering="geometricPrecision">730</text>
<text x="86.33" y="292.3" font-family='"Liberation Serif", serif' font-weight="bold" font-size="9.0" fill="#111" stroke="#111" stroke-width="0.45" text-anchor="middle" letter-spacing="0.35" text-rendering="geometricPrecision">725</text>
<text x="113.91" y="292.3" font-family='"Liberation Serif", serif' font-weight="bold" font-size="9.0" fill="#111" stroke="#111" stroke-width="0.45" text-anchor="middle" letter-spacing="0.35" text-rendering="geometricPrecision">720</text>
<text x="141.49" y="292.3" font-family='"Liberation Serif", serif' font-weight="bold" font-size="9.0" fill="#111" stroke="#111" stroke-width="0.45" text-anchor="middle" letter-spacing="0.35" text-rendering="geometricPrecision">715</text>
<text x="169.07" y="292.3" font-family='"Liberation Serif", serif' font-weight="bold" font-size="9.0" fill="#111" stroke="#111" stroke-width="0.45" text-anchor="middle" letter-spacing="0.35" text-rendering="geometricPrecision">710</text>
<text transform="translate(9.3,218.5) rotate(-90)" x="0" y="0" font-family='"Liberation Serif", serif' font-weight="bold" font-size="9.1" fill="#111" stroke="#111" stroke-width="0.45" letter-spacing="0.27" text-rendering="geometricPrecision" text-anchor="middle">Intensity(a.u.)</text>
<text x="102.65" y="305.7" font-family='"Liberation Serif", serif' font-weight="bold" font-size="9.1" fill="#111" stroke="#111" stroke-width="0.45" text-anchor="middle" letter-spacing="0.32" text-rendering="geometricPrecision">Binding energy(eV)</text>
<text x="36.0" y="173.3" font-family='"Liberation Sans", sans-serif' font-weight="bold" font-size="7.0" fill="#111" stroke="#111" stroke-width="0.4" text-anchor="middle" text-rendering="geometricPrecision">(c)</text>
<text x="51.8" y="173.1" font-family='"Liberation Serif", serif' font-weight="bold" font-size="7.4" fill="#111" stroke="#111" stroke-width="0.4" text-anchor="start" text-rendering="geometricPrecision">Fe2p</text>
<text x="34.0" y="193.0" font-family='"Liberation Serif", serif' font-weight="bold" font-size="7.5" fill="#111" stroke="#111" stroke-width="0.4" text-anchor="start" text-rendering="geometricPrecision">sat.</text>
<text x="109.5" y="212.9" font-family='"Liberation Serif", serif' font-weight="bold" font-size="7.5" fill="#111" stroke="#111" stroke-width="0.4" text-anchor="start" text-rendering="geometricPrecision">sat.</text>
<text x="78.2" y="182.9" font-family='"Liberation Serif", serif' font-weight="bold" font-size="7.3" fill="#111" stroke="#111" stroke-width="0.4" text-anchor="start" text-rendering="geometricPrecision">2p<tspan font-size="4.5" dy="3.1" stroke-width="0.15">3/2</tspan></text>
<text x="153.5" y="186.8" font-family='"Liberation Serif", serif' font-weight="bold" font-size="7.3" fill="#111" stroke="#111" stroke-width="0.4" text-anchor="start" text-rendering="geometricPrecision">2p<tspan font-size="4.5" dy="3.2" stroke-width="0.15">1/2</tspan></text>
<path d="M220.50,261.80 L221.00,261.80 L221.50,261.80 L222.00,261.80 L222.50,261.80 L223.00,261.80 L223.50,261.80 L224.00,261.80 L224.50,261.80 L225.00,261.80 L225.50,261.80 L226.00,261.80 L226.50,261.80 L227.00,261.80 L227.50,261.81 L228.00,261.81 L228.50,261.81 L229.00,261.81 L229.50,261.81 L230.00,261.81 L230.50,261.81 L231.00,261.81 L231.50,261.81 L232.00,261.81 L232.50,261.81 L233.00,261.82 L233.50,261.82 L234.00,261.82 L234.50,261.82 L235.00,261.82 L235.50,261.82 L236.00,261.82 L236.50,261.83 L237.00,261.83 L237.50,261.83 L238.00,261.83 L238.50,261.83 L239.00,261.83 L239.50,261.84 L240.00,261.84 L240.50,261.84 L241.00,261.84 L241.50,261.84 L242.00,261.85 L242.50,261.85 L243.00,261.85 L243.50,261.85 L244.00,261.86 L244.50,261.86 L245.00,261.86 L245.50,261.86 L246.00,261.87 L246.50,261.87 L247.00,261.87 L247.50,261.87 L248.00,261.88 L248.50,261.88 L249.00,261.88 L249.50,261.89 L250.00,261.89 L250.50,261.89 L251.00,261.90 L251.50,261.90 L252.00,261.90 L252.50,261.91 L253.00,261.91 L253.50,261.91 L254.00,261.92 L254.50,261.92 L255.00,261.92 L255.50,261.93 L256.00,261.93 L256.50,261.94 L257.00,261.94 L257.50,261.94 L258.00,261.95 L258.50,261.95 L259.00,261.96 L259.50,261.96 L260.00,261.96 L260.50,261.97 L261.00,261.97 L261.50,261.98 L262.00,261.98 L262.50,261.99 L263.00,261.99 L263.50,262.00 L264.00,262.00 L264.50,262.01 L265.00,262.01 L265.50,262.02 L266.00,262.02 L266.50,262.03 L267.00,262.03 L267.50,262.04 L268.00,262.04 L268.50,262.05 L269.00,262.06 L269.50,262.06 L270.00,262.07 L270.50,262.07 L271.00,262.08 L271.50,262.09 L272.00,262.09 L272.50,262.10 L273.00,262.10 L273.50,262.11 L274.00,262.12 L274.50,262.12 L275.00,262.13 L275.50,262.14 L276.00,262.14 L276.50,262.15 L277.00,262.16 L277.50,262.16 L278.00,262.17 L278.50,262.18 L279.00,262.19 L279.50,262.19 L280.00,262.20 L280.50,262.21 L281.00,262.22 L281.50,262.24 L282.00,262.26 L282.50,262.28 L283.00,262.30 L283.50,262.33 L284.00,262.36 L284.50,262.40 L285.00,262.43 L285.50,262.47 L286.00,262.51 L286.50,262.55 L287.00,262.59 L287.50,262.64 L288.00,262.68 L288.50,262.73 L289.00,262.78 L289.50,262.83 L290.00,262.88 L290.50,262.93 L291.00,262.98 L291.50,263.03 L292.00,263.09 L292.50,263.14 L293.00,263.19 L293.50,263.24 L294.00,263.30 L294.50,263.35 L295.00,263.40 L295.50,263.45 L296.00,263.51 L296.50,263.57 L297.00,263.63 L297.50,263.69 L298.00,263.75 L298.50,263.82 L299.00,263.89 L299.50,263.96 L300.00,264.03 L300.50,264.10 L301.00,264.17 L301.50,264.25 L302.00,264.32 L302.50,264.40 L303.00,264.48 L303.50,264.56 L304.00,264.63 L304.50,264.71 L305.00,264.79 L305.50,264.87 L306.00,264.95 L306.50,265.03 L307.00,265.11 L307.50,265.18 L308.00,265.26 L308.50,265.34 L309.00,265.41 L309.50,265.49 L310.00,265.56 L310.50,265.63 L311.00,265.70 L311.50,265.77 L312.00,265.84 L312.50,265.91 L313.00,265.98 L313.50,266.05 L314.00,266.12 L314.50,266.19 L315.00,266.26 L315.50,266.33 L316.00,266.40 L316.50,266.48 L317.00,266.55 L317.50,266.62 L318.00,266.69 L318.50,266.75 L319.00,266.82 L319.50,266.89 L320.00,266.96 L320.50,267.03 L321.00,267.09 L321.50,267.16 L322.00,267.22 L322.50,267.29 L323.00,267.35 L323.50,267.41 L324.00,267.47 L324.50,267.53 L325.00,267.59 L325.50,267.64 L326.00,267.70 L326.50,267.75 L327.00,267.81 L327.50,267.87 L328.00,267.92 L328.50,267.98 L329.00,268.04 L329.50,268.09 L330.00,268.15 L330.50,268.20 L331.00,268.26 L331.50,268.31 L332.00,268.37 L332.50,268.42 L333.00,268.47 L333.50,268.52 L334.00,268.57 L334.50,268.62 L335.00,268.66 L335.50,268.71 L336.00,268.75 L336.50,268.79 L337.00,268.83 L337.50,268.86 L338.00,268.89 L338.50,268.93 L339.00,268.95 L339.50,268.98 L340.00,269.00 L340.50,269.02 L341.00,269.04 L341.50,269.06 L342.00,269.08 L342.50,269.10 L343.00,269.12 L343.50,269.13 L344.00,269.15 L344.50,269.17 L345.00,269.19 L345.50,269.20 L346.00,269.22 L346.50,269.24 L347.00,269.25 L347.50,269.27 L348.00,269.28 L348.50,269.30 L349.00,269.31 L349.50,269.32 L350.00,269.34 L350.50,269.35 L351.00,269.36 L351.50,269.37 L352.00,269.38 L352.50,269.39 L353.00,269.40 L353.50,269.41 L354.00,269.42 L354.50,269.43 L355.00,269.44 L355.50,269.45 L356.00,269.46 L356.50,269.46 L357.00,269.47 L357.50,269.48 L358.00,269.48 L358.50,269.49 L359.00,269.49 L359.50,269.50 L360.00,269.50 L360.50,269.50 L361.00,269.51 L361.50,269.51 L362.00,269.51 L362.50,269.52 L363.00,269.52 L363.50,269.52 L364.00,269.52 L364.50,269.53 L365.00,269.53 L365.50,269.53 L366.00,269.54 L366.50,269.54 L367.00,269.54 L367.50,269.54 L368.00,269.55 L368.50,269.55 L369.00,269.55 L369.50,269.55 L370.00,269.56 L370.50,269.56 L371.00,269.56 L371.50,269.56 L372.00,269.56 L372.50,269.57 L373.00,269.57 L373.50,269.57 L374.00,269.57 L374.50,269.57 L375.00,269.58 L375.50,269.58 L376.00,269.58 L376.50,269.58 L377.00,269.58 L377.50,269.58 L378.00,269.59 L378.50,269.59 L379.00,269.59 L379.50,269.59 L380.00,269.59 L380.50,269.59 L381.00,269.59 L381.50,269.59 L382.00,269.59 L382.50,269.60 L383.00,269.60 L383.50,269.60 L384.00,269.60 L384.50,269.60 L385.00,269.60 L385.50,269.60 L386.00,269.60 L386.50,269.60 L387.00,269.60" fill="none" stroke="#48e4c8" stroke-width="1.2" stroke-linejoin="round" stroke-linecap="round" />
<path d="M220.50,263.41 L221.00,263.00 L221.50,262.77 L222.00,263.13 L222.50,262.58 L223.00,262.29 L223.50,262.63 L224.00,262.93 L224.50,262.53 L225.00,262.24 L225.50,263.23 L226.00,263.60 L226.50,263.45 L227.00,264.02 L227.50,263.83 L228.00,264.45 L228.50,263.58 L229.00,262.69 L229.50,262.97 L230.00,263.58 L230.50,264.78 L231.00,262.47 L231.50,260.85 L232.00,262.40 L232.50,263.43 L233.00,263.45 L233.50,262.92 L234.00,262.73 L234.50,263.14 L235.00,262.79 L235.50,263.00 L236.00,261.66 L236.50,261.40 L237.00,262.11 L237.50,262.28 L238.00,262.74 L238.50,261.61 L239.00,261.94 L239.50,261.90 L240.00,261.10 L240.50,260.68 L241.00,261.18 L241.50,262.39 L242.00,262.99 L242.50,262.58 L243.00,262.56 L243.50,262.62 L244.00,261.90 L244.50,262.20 L245.00,262.86 L245.50,262.28 L246.00,261.46 L246.50,261.53 L247.00,261.69 L247.50,261.20 L248.00,261.73 L248.50,261.99 L249.00,261.61 L249.50,261.31 L250.00,261.20 L250.50,261.89 L251.00,261.37 L251.50,262.30 L252.00,262.73 L252.50,262.53 L253.00,262.84 L253.50,261.32 L254.00,260.46 L254.50,261.06 L255.00,261.27 L255.50,260.98 L256.00,260.71 L256.50,259.53 L257.00,259.50 L257.50,259.19 L258.00,259.48 L258.50,260.30 L259.00,259.58 L259.50,259.80 L260.00,260.32 L260.50,259.51 L261.00,258.20 L261.50,258.33 L262.00,258.05 L262.50,258.00 L263.00,260.06 L263.50,259.88 L264.00,259.19 L264.50,258.86 L265.00,258.51 L265.50,258.99 L266.00,258.61 L266.50,258.97 L267.00,259.89 L267.50,259.48 L268.00,258.30 L268.50,257.40 L269.00,257.46 L269.50,257.67 L270.00,257.58 L270.50,257.45 L271.00,257.74 L271.50,256.30 L272.00,254.78 L272.50,256.20 L273.00,255.84 L273.50,254.50 L274.00,254.19 L274.50,253.46 L275.00,253.29 L275.50,255.16 L276.00,255.33 L276.50,252.73 L277.00,251.02 L277.50,250.92 L278.00,251.49 L278.50,250.66 L279.00,249.03 L279.50,249.41 L280.00,249.66 L280.50,248.20 L281.00,246.26 L281.50,244.78 L282.00,244.22 L282.50,242.96 L283.00,242.95 L283.50,242.99 L284.00,241.87 L284.50,242.38 L285.00,241.76 L285.50,238.88 L286.00,237.60 L286.50,237.84 L287.00,235.68 L287.50,233.20 L288.00,232.33 L288.50,230.66 L289.00,230.29 L289.50,228.47 L290.00,226.80 L290.50,225.96 L291.00,224.79 L291.50,223.51 L292.00,222.24 L292.50,220.76 L293.00,219.61 L293.50,217.79 L294.00,216.19 L294.50,215.28 L295.00,214.10 L295.50,213.17 L296.00,211.80 L296.50,210.55 L297.00,210.01 L297.50,209.37 L298.00,208.19 L298.50,207.89 L299.00,207.98 L299.50,206.52 L300.00,205.49 L300.50,206.01 L301.00,205.71 L301.50,204.74 L302.00,204.10 L302.50,203.52 L303.00,203.12 L303.50,202.68 L304.00,202.43 L304.50,201.91 L305.00,200.98 L305.50,199.98 L306.00,199.08 L306.50,197.97 L307.00,196.55 L307.50,195.49 L308.00,193.92 L308.50,191.94 L309.00,189.98 L309.50,187.82 L310.00,185.59 L310.50,183.36 L311.00,181.56 L311.50,179.61 L312.00,178.24 L312.50,177.23 L313.00,175.61 L313.50,174.57 L314.00,173.85 L314.50,173.45 L315.00,173.04 L315.50,173.05 L316.00,172.92 L316.50,172.05 L317.00,172.07 L317.50,172.19 L318.00,172.54 L318.50,173.64 L319.00,174.35 L319.50,174.50 L320.00,175.14 L320.50,177.17 L321.00,178.98 L321.50,180.16 L322.00,181.86 L322.50,183.90 L323.00,185.33 L323.50,186.13 L324.00,187.32 L324.50,188.97 L325.00,190.37 L325.50,191.63 L326.00,193.45 L326.50,195.08 L327.00,196.53 L327.50,198.13 L328.00,199.88 L328.50,200.57 L329.00,200.65 L329.50,201.40 L330.00,202.16 L330.50,203.18 L331.00,203.78 L331.50,204.30 L332.00,205.17 L332.50,206.48 L333.00,208.53 L333.50,210.43 L334.00,211.87 L334.50,213.77 L335.00,216.17 L335.50,218.64 L336.00,220.81 L336.50,222.97 L337.00,225.02 L337.50,227.12 L338.00,230.26 L338.50,232.22 L339.00,233.88 L339.50,236.54 L340.00,238.50 L340.50,240.12 L341.00,241.98 L341.50,243.87 L342.00,245.46 L342.50,246.50 L343.00,247.90 L343.50,249.48 L344.00,250.62 L344.50,252.06 L345.00,253.44 L345.50,254.61 L346.00,255.27 L346.50,256.14 L347.00,257.36 L347.50,258.15 L348.00,258.89 L348.50,259.19 L349.00,259.38 L349.50,260.15 L350.00,260.34 L350.50,260.64 L351.00,261.27 L351.50,261.52 L352.00,261.59 L352.50,261.81 L353.00,262.57 L353.50,263.33 L354.00,263.89 L354.50,263.94 L355.00,263.94 L355.50,264.04 L356.00,264.47 L356.50,264.89 L357.00,265.22 L357.50,265.98 L358.00,266.09 L358.50,265.53 L359.00,265.57 L359.50,265.82 L360.00,265.96 L360.50,266.87 L361.00,267.44 L361.50,266.93 L362.00,267.21 L362.50,268.07 L363.00,267.97 L363.50,267.63 L364.00,267.77 L364.50,268.14 L365.00,268.51 L365.50,268.85 L366.00,269.11 L366.50,269.23 L367.00,269.37 L367.50,269.35 L368.00,268.73 L368.50,268.63 L369.00,269.18 L369.50,269.21 L370.00,269.45 L370.50,269.55 L371.00,269.17 L371.50,269.70 L372.00,270.18 L372.50,269.95 L373.00,270.09 L373.50,270.38 L374.00,270.30 L374.50,269.49 L375.00,269.30 L375.50,269.87 L376.00,269.85 L376.50,270.08 L377.00,270.68 L377.50,270.56 L378.00,270.02 L378.50,270.69 L379.00,270.88 L379.50,270.08 L380.00,270.25 L380.50,270.66 L381.00,270.42 L381.50,270.49 L382.00,270.52 L382.50,270.06 L383.00,270.19 L383.50,270.57 L384.00,270.32 L384.50,270.16 L385.00,270.24 L385.50,270.81 L386.00,270.60 L386.50,270.18 L387.00,270.28" fill="none" stroke="#1e2cff" stroke-width="1.8" stroke-linejoin="round" stroke-linecap="round" />
<path d="M220.50,260.44 L221.00,260.43 L221.50,260.43 L222.00,260.42 L222.50,260.42 L223.00,260.41 L223.50,260.40 L224.00,260.40 L224.50,260.39 L225.00,260.38 L225.50,260.37 L226.00,260.37 L226.50,260.36 L227.00,260.35 L227.50,260.35 L228.00,260.34 L228.50,260.33 L229.00,260.32 L229.50,260.31 L230.00,260.31 L230.50,260.30 L231.00,260.29 L231.50,260.28 L232.00,260.27 L232.50,260.26 L233.00,260.25 L233.50,260.24 L234.00,260.24 L234.50,260.23 L235.00,260.22 L235.50,260.21 L236.00,260.20 L236.50,260.19 L237.00,260.17 L237.50,260.16 L238.00,260.15 L238.50,260.14 L239.00,260.13 L239.50,260.12 L240.00,260.11 L240.50,260.09 L241.00,260.08 L241.50,260.07 L242.00,260.05 L242.50,260.04 L243.00,260.03 L243.50,260.01 L244.00,260.00 L244.50,259.98 L245.00,259.96 L245.50,259.95 L246.00,259.93 L246.50,259.91 L247.00,259.90 L247.50,259.88 L248.00,259.86 L248.50,259.84 L249.00,259.82 L249.50,259.80 L250.00,259.78 L250.50,259.76 L251.00,259.74 L251.50,259.71 L252.00,259.69 L252.50,259.66 L253.00,259.64 L253.50,259.61 L254.00,259.59 L254.50,259.56 L255.00,259.53 L255.50,259.50 L256.00,259.47 L256.50,259.44 L257.00,259.40 L257.50,259.37 L258.00,259.33 L258.50,259.29 L259.00,259.26 L259.50,259.21 L260.00,259.17 L260.50,259.13 L261.00,259.08 L261.50,259.03 L262.00,258.98 L262.50,258.93 L263.00,258.87 L263.50,258.81 L264.00,258.75 L264.50,258.69 L265.00,258.62 L265.50,258.54 L266.00,258.46 L266.50,258.38 L267.00,258.29 L267.50,258.20 L268.00,258.10 L268.50,257.99 L269.00,257.88 L269.50,257.75 L270.00,257.62 L270.50,257.48 L271.00,257.33 L271.50,257.17 L272.00,256.99 L272.50,256.80 L273.00,256.60 L273.50,256.38 L274.00,256.15 L274.50,255.90 L275.00,255.63 L275.50,255.33 L276.00,255.02 L276.50,254.69 L277.00,254.33 L277.50,253.95 L278.00,253.54 L278.50,253.10 L279.00,252.63 L279.50,252.13 L280.00,251.61 L280.50,251.05 L281.00,250.46 L281.50,249.84 L282.00,249.19 L282.50,248.50 L283.00,247.79 L283.50,247.04 L284.00,246.25 L284.50,245.44 L285.00,244.59 L285.50,243.71 L286.00,242.79 L286.50,241.85 L287.00,240.88 L287.50,239.88 L288.00,238.86 L288.50,237.82 L289.00,236.76 L289.50,235.69 L290.00,234.61 L290.50,233.52 L291.00,232.44 L291.50,231.37 L292.00,230.32 L292.50,229.30 L293.00,228.30 L293.50,227.36 L294.00,226.47 L294.50,225.64 L295.00,224.89 L295.50,224.22 L296.00,223.66 L296.50,223.20 L297.00,222.86 L297.50,222.64 L298.00,222.55 L298.50,222.58 L299.00,222.75 L299.50,223.04 L300.00,223.46 L300.50,223.99 L301.00,224.63 L301.50,225.38 L302.00,226.22 L302.50,227.14 L303.00,228.13 L303.50,229.18 L304.00,230.29 L304.50,231.43 L305.00,232.60 L305.50,233.79 L306.00,235.00 L306.50,236.21 L307.00,237.42 L307.50,238.63 L308.00,239.82 L308.50,240.99 L309.00,242.15 L309.50,243.28 L310.00,244.38 L310.50,245.45 L311.00,246.49 L311.50,247.49 L312.00,248.46 L312.50,249.40 L313.00,250.30 L313.50,251.16 L314.00,251.99 L314.50,252.79 L315.00,253.55 L315.50,254.27 L316.00,254.96 L316.50,255.61 L317.00,256.23 L317.50,256.82 L318.00,257.38 L318.50,257.91 L319.00,258.41 L319.50,258.88 L320.00,259.32 L320.50,259.74 L321.00,260.14 L321.50,260.51 L322.00,260.86 L322.50,261.20 L323.00,261.51 L323.50,261.80 L324.00,262.08 L324.50,262.34 L325.00,262.58 L325.50,262.81 L326.00,263.03 L326.50,263.24 L327.00,263.44 L327.50,263.63 L328.00,263.81 L328.50,263.98 L329.00,264.15 L329.50,264.30 L330.00,264.46 L330.50,264.60 L331.00,264.74 L331.50,264.88 L332.00,265.01 L332.50,265.13 L333.00,265.25 L333.50,265.37 L334.00,265.48 L334.50,265.59 L335.00,265.69 L335.50,265.79 L336.00,265.88 L336.50,265.97 L337.00,266.06 L337.50,266.14 L338.00,266.22 L338.50,266.29 L339.00,266.36 L339.50,266.42 L340.00,266.48 L340.50,266.54 L341.00,266.60 L341.50,266.65 L342.00,266.70 L342.50,266.75 L343.00,266.80 L343.50,266.85 L344.00,266.90 L344.50,266.94 L345.00,266.99 L345.50,267.03 L346.00,267.07 L346.50,267.11 L347.00,267.15 L347.50,267.19 L348.00,267.23 L348.50,267.27 L349.00,267.30 L349.50,267.34 L350.00,267.37 L350.50,267.40 L351.00,267.44 L351.50,267.47 L352.00,267.50 L352.50,267.53 L353.00,267.55 L353.50,267.58 L354.00,267.61 L354.50,267.63 L355.00,267.66 L355.50,267.68 L356.00,267.70 L356.50,267.72 L357.00,267.75 L357.50,267.77 L358.00,267.79 L358.50,267.80 L359.00,267.82 L359.50,267.84 L360.00,267.85 L360.50,267.87 L361.00,267.88 L361.50,267.90 L362.00,267.91 L362.50,267.93 L363.00,267.94 L363.50,267.96 L364.00,267.97 L364.50,267.98 L365.00,267.99 L365.50,268.01 L366.00,268.02 L366.50,268.03 L367.00,268.04 L367.50,268.05 L368.00,268.07 L368.50,268.08 L369.00,268.09 L369.50,268.10 L370.00,268.11 L370.50,268.12 L371.00,268.13 L371.50,268.14 L372.00,268.15 L372.50,268.16 L373.00,268.17 L373.50,268.18 L374.00,268.18 L374.50,268.19 L375.00,268.20 L375.50,268.21 L376.00,268.22 L376.50,268.23 L377.00,268.23 L377.50,268.24 L378.00,268.25 L378.50,268.26 L379.00,268.26 L379.50,268.27 L380.00,268.28 L380.50,268.28 L381.00,268.29 L381.50,268.30 L382.00,268.30 L382.50,268.31 L383.00,268.31 L383.50,268.32 L384.00,268.32 L384.50,268.33 L385.00,268.33 L385.50,268.34 L386.00,268.34 L386.50,268.35 L387.00,268.35" fill="none" stroke="#a030d8" stroke-width="1.3" stroke-linejoin="round" stroke-linecap="round" />
<path d="M220.50,262.25 L221.00,262.24 L221.50,262.24 L222.00,262.23 L222.50,262.22 L223.00,262.22 L223.50,262.21 L224.00,262.20 L224.50,262.20 L225.00,262.19 L225.50,262.18 L226.00,262.18 L226.50,262.17 L227.00,262.16 L227.50,262.15 L228.00,262.15 L228.50,262.14 L229.00,262.13 L229.50,262.12 L230.00,262.12 L230.50,262.11 L231.00,262.10 L231.50,262.09 L232.00,262.08 L232.50,262.08 L233.00,262.07 L233.50,262.06 L234.00,262.05 L234.50,262.04 L235.00,262.03 L235.50,262.02 L236.00,262.01 L236.50,262.00 L237.00,261.99 L237.50,261.98 L238.00,261.97 L238.50,261.96 L239.00,261.95 L239.50,261.94 L240.00,261.93 L240.50,261.92 L241.00,261.91 L241.50,261.90 L242.00,261.89 L242.50,261.88 L243.00,261.86 L243.50,261.85 L244.00,261.84 L244.50,261.83 L245.00,261.81 L245.50,261.80 L246.00,261.79 L246.50,261.77 L247.00,261.76 L247.50,261.75 L248.00,261.73 L248.50,261.72 L249.00,261.70 L249.50,261.69 L250.00,261.67 L250.50,261.65 L251.00,261.64 L251.50,261.62 L252.00,261.60 L252.50,261.59 L253.00,261.57 L253.50,261.55 L254.00,261.53 L254.50,261.51 L255.00,261.49 L255.50,261.47 L256.00,261.45 L256.50,261.43 L257.00,261.41 L257.50,261.38 L258.00,261.36 L258.50,261.34 L259.00,261.31 L259.50,261.29 L260.00,261.26 L260.50,261.23 L261.00,261.21 L261.50,261.18 L262.00,261.15 L262.50,261.12 L263.00,261.09 L263.50,261.06 L264.00,261.02 L264.50,260.99 L265.00,260.95 L265.50,260.92 L266.00,260.88 L266.50,260.84 L267.00,260.81 L267.50,260.77 L268.00,260.72 L268.50,260.68 L269.00,260.64 L269.50,260.59 L270.00,260.54 L270.50,260.49 L271.00,260.44 L271.50,260.39 L272.00,260.34 L272.50,260.28 L273.00,260.22 L273.50,260.16 L274.00,260.10 L274.50,260.04 L275.00,259.97 L275.50,259.90 L276.00,259.83 L276.50,259.75 L277.00,259.68 L277.50,259.60 L278.00,259.51 L278.50,259.43 L279.00,259.34 L279.50,259.24 L280.00,259.15 L280.50,259.05 L281.00,258.95 L281.50,258.84 L282.00,258.74 L282.50,258.64 L283.00,258.53 L283.50,258.42 L284.00,258.30 L284.50,258.19 L285.00,258.06 L285.50,257.94 L286.00,257.81 L286.50,257.67 L287.00,257.53 L287.50,257.37 L288.00,257.22 L288.50,257.05 L289.00,256.87 L289.50,256.68 L290.00,256.49 L290.50,256.28 L291.00,256.05 L291.50,255.82 L292.00,255.57 L292.50,255.30 L293.00,255.01 L293.50,254.70 L294.00,254.38 L294.50,254.03 L295.00,253.65 L295.50,253.26 L296.00,252.83 L296.50,252.38 L297.00,251.90 L297.50,251.39 L298.00,250.84 L298.50,250.25 L299.00,249.62 L299.50,248.94 L300.00,248.21 L300.50,247.43 L301.00,246.59 L301.50,245.69 L302.00,244.71 L302.50,243.67 L303.00,242.54 L303.50,241.33 L304.00,240.03 L304.50,238.63 L305.00,237.12 L305.50,235.50 L306.00,233.77 L306.50,231.92 L307.00,229.94 L307.50,227.82 L308.00,225.58 L308.50,223.20 L309.00,220.69 L309.50,218.05 L310.00,215.30 L310.50,212.45 L311.00,209.52 L311.50,206.55 L312.00,203.57 L312.50,200.64 L313.00,197.80 L313.50,195.12 L314.00,192.67 L314.50,190.51 L315.00,188.73 L315.50,187.38 L316.00,186.50 L316.50,186.15 L317.00,186.32 L317.50,187.03 L318.00,188.24 L318.50,189.92 L319.00,192.00 L319.50,194.41 L320.00,197.10 L320.50,199.99 L321.00,203.01 L321.50,206.11 L322.00,209.22 L322.50,212.31 L323.00,215.34 L323.50,218.29 L324.00,221.13 L324.50,223.85 L325.00,226.45 L325.50,228.91 L326.00,231.23 L326.50,233.42 L327.00,235.49 L327.50,237.43 L328.00,239.25 L328.50,240.95 L329.00,242.55 L329.50,244.05 L330.00,245.45 L330.50,246.76 L331.00,247.98 L331.50,249.13 L332.00,250.20 L332.50,251.21 L333.00,252.15 L333.50,253.03 L334.00,253.86 L334.50,254.63 L335.00,255.36 L335.50,256.04 L336.00,256.68 L336.50,257.28 L337.00,257.85 L337.50,258.38 L338.00,258.88 L338.50,259.35 L339.00,259.80 L339.50,260.21 L340.00,260.61 L340.50,260.98 L341.00,261.33 L341.50,261.66 L342.00,261.98 L342.50,262.28 L343.00,262.57 L343.50,262.84 L344.00,263.11 L344.50,263.35 L345.00,263.59 L345.50,263.82 L346.00,264.04 L346.50,264.25 L347.00,264.44 L347.50,264.64 L348.00,264.82 L348.50,264.99 L349.00,265.16 L349.50,265.32 L350.00,265.48 L350.50,265.63 L351.00,265.77 L351.50,265.91 L352.00,266.04 L352.50,266.16 L353.00,266.29 L353.50,266.40 L354.00,266.52 L354.50,266.62 L355.00,266.73 L355.50,266.83 L356.00,266.93 L356.50,267.02 L357.00,267.11 L357.50,267.19 L358.00,267.28 L358.50,267.36 L359.00,267.43 L359.50,267.51 L360.00,267.58 L360.50,267.65 L361.00,267.72 L361.50,267.78 L362.00,267.84 L362.50,267.90 L363.00,267.96 L363.50,268.02 L364.00,268.07 L364.50,268.13 L365.00,268.18 L365.50,268.23 L366.00,268.28 L366.50,268.33 L367.00,268.38 L367.50,268.42 L368.00,268.46 L368.50,268.51 L369.00,268.55 L369.50,268.59 L370.00,268.63 L370.50,268.67 L371.00,268.71 L371.50,268.74 L372.00,268.78 L372.50,268.81 L373.00,268.85 L373.50,268.88 L374.00,268.91 L374.50,268.94 L375.00,268.97 L375.50,269.00 L376.00,269.03 L376.50,269.06 L377.00,269.09 L377.50,269.11 L378.00,269.14 L378.50,269.16 L379.00,269.19 L379.50,269.21 L380.00,269.24 L380.50,269.26 L381.00,269.28 L381.50,269.30 L382.00,269.33 L382.50,269.35 L383.00,269.37 L383.50,269.39 L384.00,269.41 L384.50,269.43 L385.00,269.44 L385.50,269.46 L386.00,269.48 L386.50,269.50 L387.00,269.51" fill="none" stroke="#1cb41c" stroke-width="1.3" stroke-linejoin="round" stroke-linecap="round" />
<path d="M220.50,260.71 L221.00,260.70 L221.50,260.70 L222.00,260.70 L222.50,260.70 L223.00,260.70 L223.50,260.70 L224.00,260.69 L224.50,260.69 L225.00,260.69 L225.50,260.69 L226.00,260.69 L226.50,260.69 L227.00,260.68 L227.50,260.68 L228.00,260.68 L228.50,260.68 L229.00,260.68 L229.50,260.68 L230.00,260.68 L230.50,260.68 L231.00,260.67 L231.50,260.67 L232.00,260.67 L232.50,260.67 L233.00,260.67 L233.50,260.67 L234.00,260.67 L234.50,260.67 L235.00,260.66 L235.50,260.66 L236.00,260.66 L236.50,260.66 L237.00,260.66 L237.50,260.66 L238.00,260.66 L238.50,260.66 L239.00,260.66 L239.50,260.65 L240.00,260.65 L240.50,260.65 L241.00,260.65 L241.50,260.65 L242.00,260.65 L242.50,260.65 L243.00,260.65 L243.50,260.65 L244.00,260.64 L244.50,260.64 L245.00,260.64 L245.50,260.64 L246.00,260.64 L246.50,260.64 L247.00,260.64 L247.50,260.64 L248.00,260.64 L248.50,260.63 L249.00,260.63 L249.50,260.63 L250.00,260.63 L250.50,260.63 L251.00,260.63 L251.50,260.63 L252.00,260.63 L252.50,260.63 L253.00,260.62 L253.50,260.62 L254.00,260.62 L254.50,260.62 L255.00,260.62 L255.50,260.62 L256.00,260.62 L256.50,260.61 L257.00,260.61 L257.50,260.61 L258.00,260.61 L258.50,260.61 L259.00,260.61 L259.50,260.60 L260.00,260.60 L260.50,260.60 L261.00,260.60 L261.50,260.60 L262.00,260.59 L262.50,260.59 L263.00,260.59 L263.50,260.59 L264.00,260.58 L264.50,260.58 L265.00,260.58 L265.50,260.58 L266.00,260.57 L266.50,260.57 L267.00,260.57 L267.50,260.57 L268.00,260.56 L268.50,260.56 L269.00,260.55 L269.50,260.55 L270.00,260.55 L270.50,260.54 L271.00,260.54 L271.50,260.53 L272.00,260.53 L272.50,260.53 L273.00,260.52 L273.50,260.52 L274.00,260.51 L274.50,260.50 L275.00,260.50 L275.50,260.49 L276.00,260.49 L276.50,260.48 L277.00,260.47 L277.50,260.47 L278.00,260.46 L278.50,260.45 L279.00,260.44 L279.50,260.43 L280.00,260.43 L280.50,260.42 L281.00,260.41 L281.50,260.41 L282.00,260.41 L282.50,260.42 L283.00,260.42 L283.50,260.43 L284.00,260.44 L284.50,260.45 L285.00,260.47 L285.50,260.48 L286.00,260.50 L286.50,260.52 L287.00,260.53 L287.50,260.55 L288.00,260.57 L288.50,260.59 L289.00,260.62 L289.50,260.64 L290.00,260.66 L290.50,260.68 L291.00,260.70 L291.50,260.72 L292.00,260.74 L292.50,260.75 L293.00,260.77 L293.50,260.79 L294.00,260.80 L294.50,260.81 L295.00,260.82 L295.50,260.83 L296.00,260.84 L296.50,260.85 L297.00,260.86 L297.50,260.87 L298.00,260.88 L298.50,260.89 L299.00,260.90 L299.50,260.91 L300.00,260.92 L300.50,260.93 L301.00,260.93 L301.50,260.93 L302.00,260.93 L302.50,260.93 L303.00,260.93 L303.50,260.92 L304.00,260.91 L304.50,260.89 L305.00,260.87 L305.50,260.84 L306.00,260.81 L306.50,260.77 L307.00,260.73 L307.50,260.67 L308.00,260.61 L308.50,260.54 L309.00,260.46 L309.50,260.37 L310.00,260.27 L310.50,260.15 L311.00,260.03 L311.50,259.88 L312.00,259.72 L312.50,259.55 L313.00,259.35 L313.50,259.14 L314.00,258.91 L314.50,258.65 L315.00,258.36 L315.50,258.05 L316.00,257.70 L316.50,257.32 L317.00,256.90 L317.50,256.45 L318.00,255.94 L318.50,255.39 L319.00,254.79 L319.50,254.14 L320.00,253.42 L320.50,252.65 L321.00,251.81 L321.50,250.90 L322.00,249.91 L322.50,248.86 L323.00,247.72 L323.50,246.51 L324.00,245.22 L324.50,243.86 L325.00,242.41 L325.50,240.90 L326.00,239.33 L326.50,237.71 L327.00,236.05 L327.50,234.39 L328.00,232.73 L328.50,231.12 L329.00,229.58 L329.50,228.17 L330.00,226.90 L330.50,225.84 L331.00,225.01 L331.50,224.46 L332.00,224.20 L332.50,224.24 L333.00,224.60 L333.50,225.25 L334.00,226.17 L334.50,227.32 L335.00,228.68 L335.50,230.19 L336.00,231.82 L336.50,233.53 L337.00,235.28 L337.50,237.04 L338.00,238.78 L338.50,240.49 L339.00,242.15 L339.50,243.74 L340.00,245.27 L340.50,246.72 L341.00,248.09 L341.50,249.39 L342.00,250.60 L342.50,251.75 L343.00,252.81 L343.50,253.81 L344.00,254.74 L344.50,255.60 L345.00,256.40 L345.50,257.14 L346.00,257.83 L346.50,258.47 L347.00,259.06 L347.50,259.60 L348.00,260.11 L348.50,260.57 L349.00,261.01 L349.50,261.41 L350.00,261.78 L350.50,262.12 L351.00,262.44 L351.50,262.74 L352.00,263.01 L352.50,263.27 L353.00,263.51 L353.50,263.73 L354.00,263.94 L354.50,264.14 L355.00,264.32 L355.50,264.50 L356.00,264.66 L356.50,264.81 L357.00,264.96 L357.50,265.09 L358.00,265.22 L358.50,265.34 L359.00,265.46 L359.50,265.57 L360.00,265.67 L360.50,265.77 L361.00,265.87 L361.50,265.95 L362.00,266.04 L362.50,266.12 L363.00,266.20 L363.50,266.28 L364.00,266.35 L364.50,266.42 L365.00,266.48 L365.50,266.55 L366.00,266.61 L366.50,266.66 L367.00,266.72 L367.50,266.77 L368.00,266.83 L368.50,266.88 L369.00,266.92 L369.50,266.97 L370.00,267.02 L370.50,267.06 L371.00,267.10 L371.50,267.14 L372.00,267.18 L372.50,267.22 L373.00,267.25 L373.50,267.29 L374.00,267.32 L374.50,267.35 L375.00,267.38 L375.50,267.42 L376.00,267.44 L376.50,267.47 L377.00,267.50 L377.50,267.53 L378.00,267.55 L378.50,267.58 L379.00,267.60 L379.50,267.63 L380.00,267.65 L380.50,267.67 L381.00,267.69 L381.50,267.71 L382.00,267.73 L382.50,267.75 L383.00,267.77 L383.50,267.79 L384.00,267.81 L384.50,267.82 L385.00,267.84 L385.50,267.86 L386.00,267.87 L386.50,267.89 L387.00,267.90" fill="none" stroke="#f07820" stroke-width="1.3" stroke-linejoin="round" stroke-linecap="round" />
<path d="M220.50,260.48 L221.00,260.46 L221.50,260.45 L222.00,260.43 L222.50,260.42 L223.00,260.40 L223.50,260.39 L224.00,260.37 L224.50,260.36 L225.00,260.34 L225.50,260.32 L226.00,260.31 L226.50,260.29 L227.00,260.27 L227.50,260.25 L228.00,260.24 L228.50,260.22 L229.00,260.20 L229.50,260.18 L230.00,260.16 L230.50,260.14 L231.00,260.12 L231.50,260.10 L232.00,260.08 L232.50,260.06 L233.00,260.04 L233.50,260.02 L234.00,260.00 L234.50,259.97 L235.00,259.95 L235.50,259.93 L236.00,259.90 L236.50,259.88 L237.00,259.85 L237.50,259.83 L238.00,259.80 L238.50,259.78 L239.00,259.75 L239.50,259.72 L240.00,259.69 L240.50,259.67 L241.00,259.64 L241.50,259.61 L242.00,259.58 L242.50,259.55 L243.00,259.51 L243.50,259.48 L244.00,259.45 L244.50,259.42 L245.00,259.38 L245.50,259.34 L246.00,259.31 L246.50,259.27 L247.00,259.23 L247.50,259.19 L248.00,259.15 L248.50,259.11 L249.00,259.07 L249.50,259.03 L250.00,258.98 L250.50,258.94 L251.00,258.89 L251.50,258.84 L252.00,258.80 L252.50,258.75 L253.00,258.69 L253.50,258.64 L254.00,258.59 L254.50,258.53 L255.00,258.47 L255.50,258.41 L256.00,258.35 L256.50,258.29 L257.00,258.22 L257.50,258.16 L258.00,258.09 L258.50,258.01 L259.00,257.94 L259.50,257.86 L260.00,257.78 L260.50,257.70 L261.00,257.62 L261.50,257.53 L262.00,257.44 L262.50,257.34 L263.00,257.24 L263.50,257.14 L264.00,257.03 L264.50,256.92 L265.00,256.81 L265.50,256.68 L266.00,256.56 L266.50,256.42 L267.00,256.28 L267.50,256.13 L268.00,255.97 L268.50,255.81 L269.00,255.64 L269.50,255.45 L270.00,255.26 L270.50,255.05 L271.00,254.83 L271.50,254.60 L272.00,254.36 L272.50,254.09 L273.00,253.82 L273.50,253.52 L274.00,253.21 L274.50,252.87 L275.00,252.51 L275.50,252.14 L276.00,251.73 L276.50,251.30 L277.00,250.85 L277.50,250.36 L278.00,249.85 L278.50,249.30 L279.00,248.72 L279.50,248.11 L280.00,247.46 L280.50,246.77 L281.00,246.05 L281.50,245.30 L282.00,244.51 L282.50,243.68 L283.00,242.81 L283.50,241.90 L284.00,240.95 L284.50,239.97 L285.00,238.94 L285.50,237.87 L286.00,236.76 L286.50,235.62 L287.00,234.44 L287.50,233.22 L288.00,231.97 L288.50,230.68 L289.00,229.37 L289.50,228.03 L290.00,226.68 L290.50,225.30 L291.00,223.91 L291.50,222.52 L292.00,221.13 L292.50,219.75 L293.00,218.38 L293.50,217.04 L294.00,215.73 L294.50,214.46 L295.00,213.24 L295.50,212.08 L296.00,210.99 L296.50,209.98 L297.00,209.05 L297.50,208.20 L298.00,207.44 L298.50,206.76 L299.00,206.17 L299.50,205.66 L300.00,205.21 L300.50,204.82 L301.00,204.49 L301.50,204.18 L302.00,203.90 L302.50,203.62 L303.00,203.32 L303.50,203.00 L304.00,202.63 L304.50,202.20 L305.00,201.68 L305.50,201.08 L306.00,200.36 L306.50,199.53 L307.00,198.55 L307.50,197.44 L308.00,196.17 L308.50,194.74 L309.00,193.15 L309.50,191.41 L310.00,189.51 L310.50,187.47 L311.00,185.31 L311.50,183.06 L312.00,180.76 L312.50,178.44 L313.00,176.17 L313.50,174.00 L314.00,172.00 L314.50,170.24 L315.00,168.79 L315.50,167.70 L316.00,167.03 L316.50,166.81 L317.00,167.05 L317.50,167.75 L318.00,168.88 L318.50,170.39 L319.00,172.23 L319.50,174.33 L320.00,176.61 L320.50,179.01 L321.00,181.46 L321.50,183.88 L322.00,186.24 L322.50,188.47 L323.00,190.56 L323.50,192.46 L324.00,194.17 L324.50,195.67 L325.00,196.95 L325.50,198.01 L326.00,198.88 L326.50,199.54 L327.00,200.04 L327.50,200.39 L328.00,200.62 L328.50,200.78 L329.00,200.89 L329.50,201.01 L330.00,201.19 L330.50,201.47 L331.00,201.90 L331.50,202.52 L332.00,203.36 L332.50,204.43 L333.00,205.74 L333.50,207.29 L334.00,209.04 L334.50,210.99 L335.00,213.08 L335.50,215.29 L336.00,217.57 L336.50,219.89 L337.00,222.21 L337.50,224.51 L338.00,226.77 L338.50,228.96 L339.00,231.08 L339.50,233.10 L340.00,235.04 L340.50,236.87 L341.00,238.61 L341.50,240.26 L342.00,241.81 L342.50,243.27 L343.00,244.63 L343.50,245.92 L344.00,247.12 L344.50,248.24 L345.00,249.29 L345.50,250.27 L346.00,251.18 L346.50,252.04 L347.00,252.84 L347.50,253.58 L348.00,254.28 L348.50,254.93 L349.00,255.53 L349.50,256.10 L350.00,256.63 L350.50,257.13 L351.00,257.60 L351.50,258.04 L352.00,258.46 L352.50,258.85 L353.00,259.22 L353.50,259.57 L354.00,259.90 L354.50,260.21 L355.00,260.50 L355.50,260.79 L356.00,261.05 L356.50,261.31 L357.00,261.55 L357.50,261.78 L358.00,262.00 L358.50,262.21 L359.00,262.41 L359.50,262.60 L360.00,262.79 L360.50,262.96 L361.00,263.13 L361.50,263.29 L362.00,263.45 L362.50,263.60 L363.00,263.75 L363.50,263.89 L364.00,264.02 L364.50,264.15 L365.00,264.28 L365.50,264.40 L366.00,264.51 L366.50,264.63 L367.00,264.74 L367.50,264.84 L368.00,264.94 L368.50,265.04 L369.00,265.14 L369.50,265.23 L370.00,265.32 L370.50,265.41 L371.00,265.49 L371.50,265.58 L372.00,265.65 L372.50,265.73 L373.00,265.81 L373.50,265.88 L374.00,265.95 L374.50,266.02 L375.00,266.09 L375.50,266.15 L376.00,266.21 L376.50,266.27 L377.00,266.33 L377.50,266.39 L378.00,266.45 L378.50,266.50 L379.00,266.56 L379.50,266.61 L380.00,266.66 L380.50,266.71 L381.00,266.76 L381.50,266.80 L382.00,266.85 L382.50,266.89 L383.00,266.94 L383.50,266.98 L384.00,267.02 L384.50,267.06 L385.00,267.10 L385.50,267.14 L386.00,267.18 L386.50,267.21 L387.00,267.25" fill="none" stroke="#ff1030" stroke-width="1.5" stroke-linejoin="round" stroke-linecap="round" />
<line x1="231.80" y1="280.0" x2="231.80" y2="282.6" stroke="#111" stroke-width="1.3"/>
<line x1="243.82" y1="280.0" x2="243.82" y2="282.0" stroke="#111" stroke-width="1.3"/>
<line x1="255.83" y1="280.0" x2="255.83" y2="282.6" stroke="#111" stroke-width="1.3"/>
<line x1="267.85" y1="280.0" x2="267.85" y2="282.0" stroke="#111" stroke-width="1.3"/>
<line x1="279.87" y1="280.0" x2="279.87" y2="282.6" stroke="#111" stroke-width="1.3"/>
<line x1="291.88" y1="280.0" x2="291.88" y2="282.0" stroke="#111" stroke-width="1.3"/>
<line x1="303.90" y1="280.0" x2="303.90" y2="282.6" stroke="#111" stroke-width="1.3"/>
<line x1="315.92" y1="280.0" x2="315.92" y2="282.0" stroke="#111" stroke-width="1.3"/>
<line x1="327.93" y1="280.0" x2="327.93" y2="282.6" stroke="#111" stroke-width="1.3"/>
<line x1="339.95" y1="280.0" x2="339.95" y2="282.0" stroke="#111" stroke-width="1.3"/>
<line x1="351.97" y1="280.0" x2="351.97" y2="282.6" stroke="#111" stroke-width="1.3"/>
<line x1="363.98" y1="280.0" x2="363.98" y2="282.0" stroke="#111" stroke-width="1.3"/>
<line x1="376.00" y1="280.0" x2="376.00" y2="282.6" stroke="#111" stroke-width="1.3"/>
<rect x="219.9" y="158.0" width="167.99999999999997" height="122.0" fill="none" stroke="#111" stroke-width="1.5"/>
<text x="231.97" y="291.6" font-family='"Liberation Serif", serif' font-weight="bold" font-size="9.0" fill="#111" stroke="#111" stroke-width="0.45" text-anchor="middle" letter-spacing="0.35" text-rendering="geometricPrecision">538</text>
<text x="256.00" y="291.6" font-family='"Liberation Serif", serif' font-weight="bold" font-size="9.0" fill="#111" stroke="#111" stroke-width="0.45" text-anchor="middle" letter-spacing="0.35" text-rendering="geometricPrecision">536</text>
<text x="280.04" y="291.6" font-family='"Liberation Serif", serif' font-weight="bold" font-size="9.0" fill="#111" stroke="#111" stroke-width="0.45" text-anchor="middle" letter-spacing="0.35" text-rendering="geometricPrecision">534</text>
<text x="304.07" y="291.6" font-family='"Liberation Serif", serif' font-weight="bold" font-size="9.0" fill="#111" stroke="#111" stroke-width="0.45" text-anchor="middle" letter-spacing="0.35" text-rendering="geometricPrecision">532</text>
<text x="328.10" y="291.6" font-family='"Liberation Serif", serif' font-weight="bold" font-size="9.0" fill="#111" stroke="#111" stroke-width="0.45" text-anchor="middle" letter-spacing="0.35" text-rendering="geometricPrecision">530</text>
<text x="352.14" y="291.6" font-family='"Liberation Serif", serif' font-weight="bold" font-size="9.0" fill="#111" stroke="#111" stroke-width="0.45" text-anchor="middle" letter-spacing="0.35" text-rendering="geometricPrecision">528</text>
<text x="376.17" y="291.6" font-family='"Liberation Serif", serif' font-weight="bold" font-size="9.0" fill="#111" stroke="#111" stroke-width="0.45" text-anchor="middle" letter-spacing="0.35" text-rendering="geometricPrecision">526</text>
<text transform="translate(208.6,218.8) rotate(-90)" x="0" y="0" font-family='"Liberation Serif", serif' font-weight="bold" font-size="9.1" fill="#111" stroke="#111" stroke-width="0.45" letter-spacing="0.27" text-rendering="geometricPrecision" text-anchor="middle">Intensity(a.u.)</text>
<text x="304.3" y="305.0" font-family='"Liberation Serif", serif' font-weight="bold" font-size="9.4" fill="#111" stroke="#111" stroke-width="0.45" text-anchor="middle" letter-spacing="0.32" text-rendering="geometricPrecision">Binding energy(eV)</text>
<text x="234.3" y="173.5" font-family='"Liberation Sans", sans-serif' font-weight="bold" font-size="7.0" fill="#111" stroke="#111" stroke-width="0.4" text-anchor="middle" text-rendering="geometricPrecision">(d)</text>
<text x="279.2" y="222.0" font-family='"Liberation Serif", serif' font-weight="bold" font-size="7.4" fill="#a040c8" stroke="#a040c8" stroke-width="0.2" text-anchor="start" text-rendering="geometricPrecision">O1</text>
<text x="326.1" y="181.5" font-family='"Liberation Serif", serif' font-weight="bold" font-size="7.4" fill="#18b818" stroke="#18b818" stroke-width="0.2" text-anchor="start" text-rendering="geometricPrecision">O2</text>
<text x="341.3" y="224.2" font-family='"Liberation Serif", serif' font-weight="bold" font-size="7.4" fill="#e87020" stroke="#e87020" stroke-width="0.2" text-anchor="start" text-rendering="geometricPrecision">O3</text>
</svg></body></html>
